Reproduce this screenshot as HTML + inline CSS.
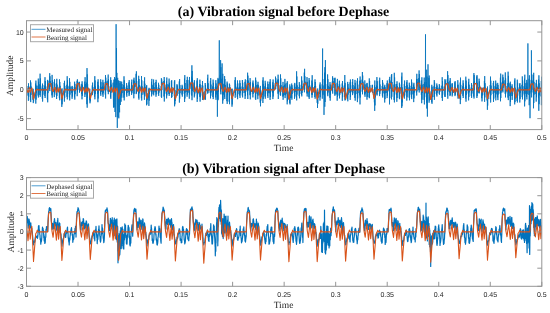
<!DOCTYPE html>
<html><head><meta charset="utf-8"><title>Vibration signal</title>
<style>
html,body{margin:0;padding:0;background:#fff;width:550px;height:313px;overflow:hidden}
svg{display:block}
text{text-rendering:geometricPrecision}
.tk{font-family:"Liberation Sans",Arial,sans-serif;font-size:7px;fill:#262626}
.lab{font-family:"Liberation Serif","Times New Roman",serif;font-size:9.5px;fill:#262626}
.lg{font-family:"Liberation Serif","Times New Roman",serif;font-size:7px;fill:#262626}
.ttl{font-family:"Liberation Serif","Times New Roman",serif;font-size:14px;font-weight:bold;fill:#000}
</style></head><body>
<svg width="550" height="313" viewBox="0 0 550 313">
<defs><clipPath id="ca"><rect x="26.5" y="20.7" width="515.3" height="108.89999999999999"/></clipPath><clipPath id="cb"><rect x="26.5" y="177.6" width="515.3" height="108.70000000000002"/></clipPath></defs>
<rect width="550" height="313" fill="#fff"/>
<g clip-path="url(#ca)" fill="none" stroke-linejoin="round">
<polyline points="25.5,89.3 25.5,88.3 25.6,86.3 25.8,93.4 25.9,81.4 26.1,94.2 26.2,82.6 26.4,90.0 26.4,87.2 26.5,85.5 26.6,88.3 26.8,88.5 26.8,88.3 27.2,89.2 27.2,89.6 27.5,90.6 27.8,91.8 28.0,92.0 28.0,94.3 28.1,95.6 28.2,90.0 28.2,86.0 28.4,100.8 28.5,86.6 28.5,83.3 28.7,96.8 28.8,86.4 28.8,86.6 28.8,86.5 29.0,91.4 29.1,88.1 29.2,88.1 29.3,88.1 29.4,87.9 29.5,88.0 29.8,90.1 30.1,91.5 30.2,90.7 30.2,88.7 30.2,88.3 30.4,100.3 30.5,86.9 30.5,80.4 30.7,102.1 30.8,84.9 30.8,82.4 31.0,94.9 31.0,92.9 31.1,86.5 31.2,87.1 31.3,90.1 31.4,88.6 31.5,88.6 31.8,87.9 31.8,88.1 32.2,90.3 32.5,91.8 32.6,92.6 32.8,93.7 32.8,92.7 32.9,91.6 33.0,99.8 33.2,89.9 33.2,88.8 33.3,103.1 33.5,93.5 33.5,94.3 33.5,96.4 33.6,101.4 33.8,95.9 33.8,96.8 33.9,98.3 34.1,96.9 34.2,96.4 34.5,95.0 34.5,95.1 34.8,93.8 35.2,92.4 35.4,91.8 35.5,95.9 35.5,94.1 35.6,83.5 35.7,97.2 35.8,103.6 35.8,95.1 35.9,80.6 36.1,99.6 36.2,91.1 36.2,85.6 36.4,93.1 36.5,89.5 36.5,88.8 36.7,89.4 36.7,89.9 36.8,89.5 37.2,89.4 37.3,88.8 37.5,89.0 37.8,89.9 37.9,89.8 38.0,85.7 38.0,89.5 38.1,95.5 38.2,90.5 38.3,78.6 38.4,97.5 38.5,89.4 38.6,81.8 38.7,93.7 38.8,88.5 38.9,87.2 39.0,90.4 39.2,89.8 39.2,89.9 39.5,89.7 39.7,89.9 39.8,84.3 39.8,89.3 39.9,95.0 40.1,73.7 40.2,88.9 40.2,96.8 40.4,78.4 40.5,91.3 40.5,92.9 40.7,85.7 40.8,90.3 40.8,90.4 41.0,89.8 41.2,89.8 41.5,89.7 41.8,89.9 42.1,89.6 42.2,87.7 42.2,88.4 42.3,98.7 42.5,83.6 42.5,89.0 42.6,101.6 42.8,85.1 42.8,90.4 42.9,94.7 43.1,88.1 43.2,90.4 43.2,91.0 43.4,89.7 43.5,89.7 43.8,89.7 44.2,89.8 44.5,90.1 44.6,89.8 44.7,85.7 44.8,95.3 44.8,96.0 45.0,77.2 45.1,98.0 45.2,94.9 45.3,81.1 45.4,93.7 45.5,90.9 45.6,86.9 45.7,90.7 45.8,89.8 45.9,89.9 46.2,89.6 46.5,90.0 46.8,89.7 47.2,89.8 47.2,89.8 47.3,86.2 47.4,99.5 47.5,89.7 47.6,79.9 47.6,84.1 47.7,102.3 47.8,87.0 47.9,81.0 48.0,93.1 48.1,88.1 48.2,84.6 48.2,83.8 48.3,86.6 48.5,84.7 48.5,84.6 48.6,84.0 48.8,84.1 49.2,83.6 49.3,83.2 49.4,79.8 49.5,88.3 49.5,89.2 49.6,80.2 49.7,73.2 49.8,91.1 49.8,89.3 50.0,76.3 50.1,86.7 50.2,84.9 50.3,81.2 50.4,84.6 50.5,84.0 50.6,84.0 50.8,83.5 50.8,83.9 51.2,85.5 51.4,86.6 51.5,87.1 51.7,88.3 51.8,83.2 51.8,88.0 51.9,95.3 52.0,84.9 52.1,74.9 52.2,89.7 52.2,97.7 52.4,80.2 52.5,92.1 52.5,94.1 52.7,87.0 52.8,91.7 52.8,91.7 53.0,91.3 53.1,91.3 53.2,91.6 53.5,90.3 53.8,89.5 53.9,89.2 53.9,89.1 54.0,92.2 54.2,82.9 54.2,81.9 54.3,97.1 54.5,79.3 54.5,80.9 54.6,93.4 54.8,83.6 54.8,84.1 54.8,85.2 54.9,89.7 55.1,87.2 55.2,88.0 55.2,88.7 55.5,89.5 55.6,89.8 55.8,90.4 56.2,91.7 56.2,91.9 56.3,95.1 56.4,90.0 56.5,83.1 56.5,84.5 56.6,99.0 56.8,78.8 56.8,84.2 56.9,95.9 57.1,84.6 57.2,88.4 57.2,89.9 57.2,91.4 57.4,88.1 57.5,88.2 57.5,88.6 57.8,87.9 57.8,88.0 58.2,89.8 58.5,91.5 58.6,92.1 58.8,91.1 59.1,90.5 59.2,88.4 59.2,86.8 59.4,98.2 59.4,92.2 59.5,79.7 59.5,79.3 59.7,100.3 59.8,82.0 59.8,83.8 60.0,93.4 60.1,85.8 60.2,86.9 60.2,87.4 60.3,89.2 60.4,89.2 60.5,89.7 60.8,91.5 61.0,92.7 61.2,93.9 61.4,95.4 61.5,99.0 61.5,99.3 61.7,89.4 61.8,106.9 61.8,104.8 61.9,96.5 62.0,88.3 62.1,104.3 62.2,99.9 62.3,92.8 62.4,99.2 62.5,97.1 62.6,95.3 62.7,95.5 62.8,95.1 62.9,95.0 63.2,93.9 63.5,92.6 63.8,91.2 64.0,91.0 64.1,94.4 64.1,91.1 64.2,86.1 64.2,83.0 64.4,101.6 64.5,81.2 64.5,80.8 64.7,97.8 64.8,85.9 64.8,87.2 65.0,92.6 65.1,88.9 65.1,89.1 65.2,89.2 65.3,89.8 65.5,89.5 65.7,89.1 65.8,89.2 66.2,89.4 66.4,89.8 66.5,89.6 66.8,89.5 66.8,86.5 66.9,84.8 67.0,96.8 67.2,76.4 67.2,76.2 67.3,99.4 67.5,80.3 67.5,83.4 67.6,94.0 67.8,86.7 67.8,88.4 67.9,90.7 68.1,89.6 68.2,89.6 68.5,89.8 68.8,89.8 69.1,89.9 69.2,88.7 69.2,85.8 69.4,97.4 69.5,83.4 69.5,78.2 69.7,100.4 69.8,82.9 69.8,81.9 70.0,94.6 70.1,86.6 70.2,87.5 70.3,91.1 70.4,89.6 70.5,89.5 70.8,89.8 71.2,89.9 71.5,89.8 71.7,89.7 71.8,92.9 71.8,89.8 71.9,86.7 72.1,98.8 72.2,89.4 72.2,85.9 72.4,96.5 72.5,88.6 72.5,88.0 72.7,92.1 72.8,89.2 72.8,89.5 73.0,89.9 73.2,89.5 73.5,89.6 73.8,89.7 74.2,89.6 74.2,89.6 74.3,86.9 74.5,97.4 74.5,96.3 74.6,81.7 74.8,99.6 74.8,95.1 74.9,83.9 75.1,94.2 75.2,91.1 75.2,87.4 75.4,90.8 75.5,90.2 75.5,89.7 75.8,89.7 76.0,89.9 76.2,88.4 76.5,86.8 76.5,86.8 76.8,85.0 76.8,85.7 76.9,88.8 77.0,85.4 77.1,80.8 77.2,91.1 77.2,96.2 77.4,79.3 77.5,91.4 77.5,92.3 77.7,81.7 77.8,86.6 77.8,86.0 78.0,83.1 78.0,83.3 78.1,83.8 78.2,83.6 78.5,83.6 78.8,83.5 79.0,83.7 79.1,82.4 79.2,85.6 79.2,86.0 79.2,89.9 79.4,81.8 79.5,89.9 79.5,92.7 79.7,84.3 79.8,87.3 79.8,90.0 79.8,90.2 80.0,86.9 80.1,89.3 80.2,89.3 80.3,89.1 80.4,89.4 80.5,89.8 80.8,90.3 81.2,90.6 81.5,91.7 81.5,91.3 81.6,91.3 81.7,94.1 81.8,83.9 81.8,85.8 82.0,99.3 82.1,81.3 82.2,85.8 82.3,95.9 82.3,95.4 82.4,85.0 82.5,88.8 82.6,91.1 82.7,87.4 82.8,87.5 82.9,87.9 83.2,87.3 83.2,87.5 83.5,88.1 83.8,89.0 84.0,89.7 84.2,90.4 84.5,91.7 84.5,91.4 84.6,93.1 84.8,82.1 84.8,81.6 84.8,87.7 84.9,97.0 85.1,77.2 85.2,88.1 85.2,94.4 85.4,84.1 85.5,89.9 85.5,91.1 85.6,90.1 85.7,88.2 85.8,89.2 85.8,88.9 86.2,88.0 86.2,88.1 86.5,89.7 86.6,90.2 86.7,82.6 86.8,100.3 86.9,104.2 87.0,77.8 87.0,68.1 87.2,107.7 87.2,106.8 87.3,74.4 87.5,97.8 87.5,94.3 87.6,84.1 87.8,90.9 87.8,91.1 87.8,90.4 87.9,89.5 88.2,88.7 88.5,88.2 88.6,88.3 88.8,89.7 89.2,91.3 89.4,92.4 89.4,92.9 89.5,91.3 89.5,91.0 89.7,99.8 89.8,88.8 89.8,90.2 90.0,103.3 90.1,93.1 90.2,95.7 90.3,101.4 90.3,101.2 90.4,96.6 90.5,96.8 90.6,98.2 90.7,96.6 90.8,96.1 91.2,94.9 91.3,94.6 91.5,94.0 91.8,92.5 92.0,92.1 92.1,93.8 92.2,89.6 92.3,85.4 92.4,95.1 92.5,89.9 92.5,87.0 92.6,82.6 92.7,93.3 92.8,87.7 92.9,87.0 93.0,91.2 93.2,89.6 93.2,89.5 93.3,89.8 93.5,89.9 93.5,89.8 93.8,89.4 94.1,88.9 94.2,89.1 94.4,89.4 94.5,84.6 94.5,88.0 94.6,96.7 94.8,76.2 94.8,78.0 94.8,87.4 94.9,99.3 95.1,80.4 95.2,89.7 95.2,94.1 95.4,86.4 95.5,90.5 95.5,90.9 95.7,90.0 95.8,89.5 96.2,89.3 96.5,89.7 96.8,89.9 97.2,89.6 97.5,89.8 97.5,89.6 97.6,94.0 97.8,81.8 97.8,91.5 97.9,102.2 98.1,79.3 98.2,93.0 98.2,98.5 98.4,85.2 98.5,92.3 98.5,93.0 98.7,88.7 98.8,89.7 98.8,90.0 99.2,89.9 99.5,89.9 99.8,89.6 100.2,89.5 100.3,89.6 100.4,86.2 100.5,91.6 100.5,94.2 100.7,79.3 100.8,94.7 100.8,95.8 101.0,82.1 101.1,92.0 101.2,91.5 101.3,87.2 101.4,90.3 101.5,90.1 101.6,90.0 101.8,89.9 102.2,89.7 102.5,89.7 102.5,88.8 102.6,86.3 102.7,94.4 102.8,84.6 102.9,79.8 103.0,96.8 103.2,84.2 103.2,82.6 103.3,92.9 103.5,87.2 103.5,87.7 103.6,90.6 103.8,89.8 103.8,89.8 104.2,89.8 104.3,89.6 104.5,88.6 104.8,86.8 104.8,86.8 105.1,85.5 105.2,81.9 105.2,83.0 105.3,94.6 105.3,89.8 105.5,75.1 105.5,82.5 105.6,98.5 105.8,77.7 105.8,84.6 105.9,90.3 106.1,81.5 106.2,84.0 106.2,85.1 106.3,83.6 106.4,83.7 106.5,83.2 106.8,83.5 107.2,83.3 107.5,83.5 107.5,83.4 107.8,85.0 107.8,82.6 107.9,80.7 108.0,91.5 108.1,78.4 108.2,75.4 108.2,74.6 108.3,94.2 108.5,79.4 108.5,81.8 108.6,91.9 108.7,88.0 108.8,86.5 108.8,88.1 108.9,90.5 109.1,90.0 109.2,90.2 109.5,91.1 109.8,91.1 109.8,91.2 110.2,90.4 110.3,90.3 110.4,85.9 110.5,95.9 110.5,97.3 110.6,81.6 110.7,77.3 110.8,98.8 110.8,97.8 111.0,80.1 111.1,92.8 111.2,90.3 111.3,84.6 111.4,88.7 111.5,87.8 111.5,87.2 111.6,87.4 111.8,88.2 112.2,89.2 112.3,89.8 112.5,90.0 112.8,91.5 112.9,91.6 113.1,82.7 113.1,85.2 113.2,87.0 113.5,107.5 113.5,105.6 113.8,81.7 113.9,79.6 113.9,85.1 114.2,102.1 114.2,107.4 114.5,86.0 114.5,83.0 114.6,77.0 114.8,96.6 115.0,112.0 115.2,97.5 115.3,82.3 115.4,78.6 115.5,90.9 115.8,117.1 115.8,111.2 116.0,97.8 116.1,24.2 116.1,50.4 116.2,67.9 116.2,89.4 116.4,88.9 116.5,48.1 116.6,84.9 116.8,75.7 116.9,72.9 116.9,78.7 117.2,111.7 117.3,127.9 117.5,99.1 117.7,77.8 117.7,85.8 117.8,95.7 118.0,117.3 118.2,104.6 118.4,80.4 118.5,88.9 118.6,103.3 118.8,118.3 118.8,115.2 119.2,82.1 119.2,80.9 119.5,107.7 119.6,112.3 119.6,106.2 119.8,91.2 119.9,83.2 120.2,96.2 120.3,105.0 120.5,93.7 120.7,81.3 120.8,87.9 120.8,88.6 121.1,101.7 121.2,95.5 121.2,90.2 121.3,90.2 121.4,87.0 121.5,93.7 121.5,95.6 121.7,81.7 121.8,96.9 121.8,97.7 121.8,97.1 122.0,84.1 122.1,93.1 122.2,91.9 122.3,87.5 122.4,89.9 122.4,90.1 122.5,89.6 122.6,89.2 122.8,89.6 123.1,89.7 123.2,89.5 123.5,89.7 123.6,89.9 123.7,85.1 123.8,93.7 123.9,97.7 124.0,76.3 124.2,98.0 124.2,100.4 124.3,80.3 124.5,94.6 124.5,93.6 124.6,86.6 124.8,91.0 124.8,90.5 124.9,89.4 125.2,89.8 125.5,89.8 125.8,89.8 126.2,89.8 126.2,89.6 126.3,87.5 126.5,94.6 126.5,94.5 126.6,83.1 126.8,96.7 126.8,93.6 126.9,85.5 127.1,92.9 127.2,90.6 127.2,88.2 127.4,90.8 127.5,89.8 127.5,89.8 127.8,89.8 128.2,89.8 128.5,89.8 128.7,89.7 128.8,92.2 128.8,87.2 128.9,82.4 129.1,96.1 129.2,84.2 129.2,80.1 129.4,94.4 129.5,85.7 129.5,85.2 129.7,91.5 129.8,88.5 129.8,88.8 130.0,89.8 130.2,89.6 130.5,90.0 130.8,90.0 131.2,90.0 131.2,89.8 131.3,91.5 131.5,82.3 131.5,82.8 131.6,94.9 131.8,79.6 131.8,83.5 131.9,93.2 132.1,85.3 132.2,88.2 132.2,91.2 132.4,88.9 132.5,89.5 132.5,89.6 132.7,89.7 132.8,89.2 133.2,87.2 133.2,86.9 133.4,85.5 133.5,88.8 133.5,89.9 133.7,79.7 133.7,82.6 133.8,98.0 133.8,98.3 134.0,77.7 134.1,93.8 134.2,91.4 134.3,80.9 134.4,87.2 134.5,85.6 134.6,82.9 134.7,83.5 134.7,83.7 134.8,83.9 135.2,83.8 135.5,83.7 135.8,84.1 135.8,84.4 135.9,86.8 135.9,86.9 136.1,73.8 136.2,87.8 136.2,94.1 136.4,71.3 136.5,91.2 136.5,93.1 136.5,93.0 136.7,81.0 136.8,90.3 136.8,90.3 137.0,87.3 137.1,89.5 137.1,89.3 137.2,89.7 137.5,90.3 137.8,90.3 138.2,91.4 138.2,91.5 138.3,91.2 138.4,86.0 138.5,93.4 138.6,97.8 138.7,75.8 138.8,96.8 138.9,99.6 139.0,79.0 139.0,79.6 139.2,93.3 139.2,92.9 139.3,85.0 139.5,89.5 139.5,89.1 139.6,87.8 139.8,87.6 139.9,86.9 140.2,88.1 140.5,89.2 140.7,89.6 140.8,89.8 141.1,91.0 141.2,89.0 141.2,85.7 141.4,98.2 141.5,79.9 141.5,78.5 141.5,76.0 141.7,100.5 141.8,80.3 141.8,81.1 142.0,94.9 142.1,86.3 142.2,87.6 142.3,90.5 142.3,90.3 142.4,89.7 142.5,89.1 142.8,87.9 142.9,87.8 143.2,89.0 143.5,90.9 143.7,92.1 143.8,91.4 144.0,91.2 144.1,94.5 144.2,89.6 144.3,81.1 144.4,99.8 144.5,87.4 144.5,85.9 144.6,77.3 144.7,96.1 144.8,86.1 144.9,83.7 145.0,91.0 145.2,87.4 145.2,87.3 145.3,87.9 145.3,88.2 145.5,89.4 145.8,90.6 146.1,92.6 146.2,92.8 146.2,92.8 146.3,96.7 146.4,86.2 146.5,96.1 146.6,105.3 146.7,85.1 146.8,99.7 146.9,104.3 147.0,93.9 147.0,93.3 147.2,100.1 147.2,99.8 147.3,96.1 147.5,96.8 147.5,96.4 147.8,95.5 148.0,94.4 148.2,93.9 148.5,93.0 148.5,93.9 148.6,97.6 148.7,89.4 148.8,100.8 148.9,105.9 149.0,87.8 149.2,99.3 149.2,100.6 149.2,98.3 149.3,88.6 149.5,94.0 149.5,93.2 149.6,89.7 149.8,90.1 149.8,90.2 150.2,90.0 150.2,89.7 150.5,89.7 150.8,89.2 150.8,89.0 151.2,89.3 151.2,89.3 151.3,92.0 151.5,81.8 151.5,83.9 151.5,85.0 151.6,96.4 151.8,78.9 151.8,84.7 151.9,94.4 152.1,84.8 152.2,88.8 152.2,91.4 152.4,88.6 152.5,89.5 152.5,89.6 152.8,89.8 153.2,89.4 153.2,89.8 153.3,86.1 153.4,93.9 153.5,87.2 153.6,79.5 153.7,95.3 153.8,86.7 153.9,82.9 154.0,92.3 154.2,87.3 154.2,87.2 154.3,90.1 154.5,89.9 154.5,89.7 154.8,89.6 155.2,89.4 155.5,89.9 155.6,89.6 155.7,92.1 155.8,82.6 155.8,82.0 156.0,96.7 156.1,79.8 156.2,82.1 156.3,94.5 156.4,85.2 156.5,87.9 156.6,91.2 156.7,88.7 156.8,89.2 156.9,89.5 157.2,89.8 157.5,89.6 157.8,89.8 158.1,89.8 158.2,88.4 158.2,87.3 158.4,94.1 158.5,83.5 158.5,82.8 158.7,95.9 158.8,84.8 158.8,86.2 159.0,92.6 159.1,88.0 159.2,89.0 159.3,90.4 159.4,89.9 159.5,89.4 159.8,89.5 160.2,89.7 160.5,89.8 160.8,89.4 161.0,89.7 161.1,88.4 161.1,86.1 161.2,88.2 161.3,96.8 161.4,78.2 161.5,86.1 161.6,97.2 161.6,97.9 161.7,79.4 161.8,85.8 161.9,90.1 162.0,81.8 162.1,82.3 162.2,84.2 162.2,85.1 162.3,83.8 162.5,83.8 162.8,83.4 163.1,83.3 163.2,83.3 163.5,83.5 163.8,83.5 163.8,82.6 163.9,81.0 164.0,96.5 164.2,80.9 164.2,77.0 164.3,91.0 164.3,101.5 164.5,80.3 164.5,80.7 164.6,93.7 164.8,84.6 164.8,85.8 164.9,87.2 164.9,88.8 165.1,87.8 165.2,88.4 165.5,89.4 165.5,89.4 165.8,90.1 166.2,90.6 166.2,90.7 166.3,93.7 166.5,81.3 166.5,81.4 166.6,90.7 166.6,98.4 166.8,77.5 166.8,82.0 166.9,95.4 167.1,84.2 167.2,87.4 167.2,91.5 167.4,88.4 167.4,87.6 167.5,88.6 167.5,88.8 167.8,88.0 168.2,87.3 168.3,87.2 168.5,87.9 168.7,88.6 168.8,84.6 168.8,87.6 168.9,93.9 169.1,79.2 169.1,78.6 169.2,88.1 169.2,95.9 169.4,82.8 169.5,91.5 169.5,94.0 169.7,89.3 169.8,92.8 169.8,92.9 169.9,92.4 170.0,92.1 170.2,91.9 170.5,90.5 170.7,89.7 170.8,89.4 171.2,88.3 171.2,88.4 171.3,90.7 171.3,89.4 171.4,81.0 171.5,90.9 171.6,97.9 171.7,80.1 171.8,94.1 171.9,97.0 172.0,87.0 172.1,90.9 172.2,94.0 172.2,93.7 172.3,90.4 172.5,90.8 172.5,90.9 172.8,89.4 172.9,89.3 173.2,88.9 173.5,88.6 173.7,88.2 173.8,88.7 174.2,90.5 174.2,90.8 174.3,95.8 174.4,81.5 174.5,91.8 174.5,95.2 174.6,106.3 174.7,80.1 174.8,98.8 174.9,104.3 175.0,90.1 175.2,101.0 175.2,100.7 175.3,97.2 175.4,98.6 175.5,98.5 175.5,98.5 175.8,97.3 176.2,95.5 176.4,94.9 176.5,94.6 176.6,94.1 176.7,91.0 176.8,95.7 176.8,95.7 177.0,84.2 177.1,95.6 177.2,93.4 177.3,85.4 177.4,92.3 177.5,90.6 177.6,88.3 177.6,87.9 177.7,90.6 177.8,90.0 177.9,90.3 178.2,90.0 178.5,90.0 178.6,89.8 178.8,89.4 179.0,89.0 179.1,93.9 179.2,92.1 179.2,91.1 179.3,81.4 179.4,102.6 179.5,94.1 179.6,79.1 179.7,98.7 179.8,90.9 179.9,86.7 179.9,85.1 180.0,93.2 180.2,89.2 180.2,88.9 180.3,89.5 180.5,89.6 180.8,89.8 181.2,90.0 181.5,89.6 181.7,89.5 181.8,88.2 181.8,89.4 182.0,94.6 182.1,84.8 182.2,89.4 182.3,96.6 182.4,86.3 182.5,90.7 182.6,92.4 182.7,88.7 182.8,90.6 182.9,90.4 183.0,89.8 183.2,89.4 183.5,89.8 183.8,89.8 184.2,89.6 184.2,89.5 184.3,94.0 184.5,78.6 184.5,83.8 184.6,102.0 184.8,75.1 184.8,85.3 184.9,98.5 185.1,83.0 185.2,89.8 185.2,92.6 185.4,88.1 185.5,89.6 185.5,89.9 185.8,89.8 186.2,89.7 186.5,89.6 186.7,89.7 186.8,91.9 186.8,90.2 187.0,80.0 187.1,96.7 187.2,88.7 187.3,76.8 187.4,94.5 187.5,87.8 187.6,83.8 187.7,91.9 187.8,88.9 187.9,88.7 188.0,89.6 188.2,89.3 188.5,89.8 188.8,89.7 188.9,89.8 189.0,92.8 189.2,80.7 189.2,80.0 189.3,98.7 189.4,80.2 189.5,77.0 189.5,79.9 189.6,94.5 189.8,81.7 189.8,84.7 189.9,88.8 189.9,88.0 190.1,84.3 190.2,84.4 190.2,84.9 190.4,83.3 190.5,83.3 190.8,83.1 191.2,82.9 191.4,82.5 191.5,82.7 191.5,80.8 191.6,76.6 191.7,95.5 191.8,73.3 191.9,65.3 192.0,100.2 192.2,71.5 192.2,70.9 192.3,91.0 192.5,78.7 192.5,80.0 192.6,84.7 192.6,84.7 192.8,83.5 192.8,84.1 193.2,86.2 193.2,86.8 193.5,87.9 193.8,89.6 193.8,89.5 193.9,89.5 194.0,92.2 194.1,82.4 194.2,85.2 194.3,97.4 194.4,80.2 194.5,86.4 194.6,95.7 194.7,86.6 194.8,91.1 194.9,93.5 194.9,92.5 195.0,90.2 195.2,90.9 195.2,90.9 195.5,90.0 195.8,89.1 195.8,88.7 196.2,88.2 196.5,87.4 196.6,87.1 196.8,87.3 196.8,89.9 196.9,92.6 197.0,80.5 197.2,99.2 197.2,101.9 197.3,78.2 197.4,94.2 197.5,98.9 197.5,97.9 197.6,85.8 197.8,94.3 197.8,93.1 197.9,90.6 198.1,91.7 198.2,92.7 198.2,92.6 198.5,91.7 198.8,90.6 199.0,89.7 199.2,89.2 199.5,88.1 199.5,87.9 199.6,84.2 199.6,86.0 199.8,96.8 199.8,90.9 199.9,79.7 200.1,101.6 200.2,92.3 200.2,84.4 200.4,97.2 200.4,94.2 200.5,91.2 200.5,89.7 200.7,92.6 200.8,91.2 200.8,90.9 201.2,89.7 201.2,89.6 201.5,89.1 201.8,88.0 202.0,88.1 202.1,88.2 202.2,85.7 202.2,85.1 202.3,95.6 202.5,81.0 202.5,84.2 202.6,100.0 202.8,85.6 202.8,90.3 202.8,91.1 202.9,97.0 203.1,92.2 203.2,94.7 203.2,96.4 203.4,96.6 203.5,98.0 203.8,99.5 203.8,99.4 204.2,98.0 204.5,96.4 204.8,95.4 204.8,95.2 204.8,95.0 204.9,91.2 205.1,99.2 205.2,89.3 205.2,83.0 205.4,99.8 205.5,87.7 205.5,85.0 205.7,94.7 205.8,88.5 205.8,88.6 205.9,90.5 206.0,91.1 206.1,90.4 206.2,90.2 206.5,90.1 206.8,89.6 206.9,89.8 207.2,89.6 207.3,89.4 207.4,90.9 207.5,80.5 207.5,78.4 207.5,80.8 207.7,93.7 207.8,74.7 207.8,76.3 208.0,92.8 208.1,83.2 208.2,85.3 208.2,89.7 208.3,91.0 208.4,88.2 208.5,89.0 208.6,90.0 208.8,89.5 209.2,89.6 209.5,89.8 209.8,89.6 210.1,89.9 210.2,90.3 210.2,92.8 210.4,81.1 210.5,93.7 210.5,98.4 210.7,78.0 210.8,94.9 210.8,95.7 211.0,84.6 211.1,92.5 211.2,91.3 211.3,88.9 211.4,89.7 211.5,89.6 211.8,89.7 212.2,89.8 212.5,89.8 212.7,89.8 212.8,86.4 212.8,89.5 212.9,97.0 213.1,79.6 213.2,89.9 213.2,99.1 213.4,82.8 213.5,91.1 213.5,94.1 213.7,87.2 213.8,90.4 213.8,90.7 214.0,89.9 214.2,89.9 214.5,89.5 214.8,89.8 215.2,89.8 215.4,89.5 215.5,86.8 215.5,86.5 215.7,97.4 215.8,80.2 215.8,83.1 216.0,99.8 216.1,83.4 216.2,87.5 216.3,94.5 216.4,87.4 216.5,89.3 216.6,90.8 216.7,90.0 216.8,90.0 217.2,89.8 217.3,90.0 217.4,116.7 217.5,89.6 217.6,89.3 217.7,85.8 217.8,98.6 217.8,99.1 217.8,98.5 218.0,77.9 218.1,100.2 218.2,94.4 218.3,79.2 218.3,82.8 218.4,91.6 218.5,87.1 218.6,82.3 218.7,85.9 218.8,84.6 218.8,84.6 218.9,83.7 219.2,83.6 219.2,83.7 219.3,40.3 219.4,83.7 219.5,83.7 219.8,83.5 219.8,83.5 220.2,83.5 220.2,83.6 220.3,75.2 220.5,91.5 220.5,87.4 220.6,60.1 220.8,94.3 220.8,84.5 220.9,67.2 221.0,79.9 221.1,88.9 221.2,83.4 221.2,78.8 221.4,86.9 221.5,86.4 221.5,86.4 221.6,87.2 221.8,88.0 222.0,88.6 222.1,63.4 222.2,80.9 222.2,89.3 222.2,89.5 222.3,89.5 222.4,94.5 222.5,80.2 222.5,77.7 222.7,103.7 222.8,73.8 222.8,75.6 223.0,100.3 223.1,83.8 223.2,86.8 223.3,94.6 223.3,93.3 223.4,89.6 223.5,90.0 223.6,90.3 223.8,90.0 224.1,89.1 224.2,89.0 224.2,89.4 224.3,84.5 224.5,96.8 224.5,91.4 224.6,76.1 224.8,99.0 224.8,89.6 224.9,79.0 225.0,88.4 225.1,92.3 225.2,87.4 225.2,84.9 225.4,89.3 225.5,88.5 225.5,88.7 225.8,89.7 225.8,89.6 226.2,90.7 226.5,91.7 226.6,92.2 226.7,92.2 226.8,88.6 226.8,93.8 226.9,101.2 227.1,81.6 227.2,95.6 227.2,103.9 227.4,83.5 227.4,87.6 227.5,93.6 227.5,95.3 227.7,86.9 227.8,89.6 227.8,89.5 228.0,87.9 228.0,87.5 228.2,88.2 228.5,90.5 228.8,91.8 228.8,91.9 229.0,91.5 229.1,88.7 229.2,98.7 229.2,101.7 229.4,83.6 229.5,104.1 229.5,104.2 229.6,89.0 229.7,84.8 229.8,95.5 229.8,93.9 230.0,87.1 230.1,90.4 230.2,89.5 230.3,88.5 230.4,88.1 230.5,88.6 230.8,90.2 231.2,92.3 231.2,92.5 231.5,94.5 231.6,94.7 231.7,98.8 231.8,88.9 231.8,92.8 232.0,106.7 232.1,88.7 232.1,90.8 232.2,95.6 232.3,104.4 232.4,93.1 232.5,97.1 232.6,99.3 232.7,95.2 232.8,95.8 232.9,96.2 233.1,94.6 233.2,94.6 233.5,93.6 233.8,92.2 234.2,91.0 234.3,89.9 234.5,90.1 234.8,90.3 234.8,91.5 234.9,92.7 235.0,80.1 235.2,96.7 235.2,97.8 235.3,77.7 235.3,77.2 235.5,94.9 235.5,93.4 235.6,83.7 235.8,90.9 235.8,90.2 235.9,87.8 235.9,88.0 236.1,88.9 236.2,89.3 236.5,89.7 236.6,89.6 236.8,89.7 237.1,89.9 237.2,86.7 237.2,86.7 237.3,97.1 237.5,80.4 237.5,83.9 237.6,99.2 237.8,83.4 237.8,87.8 237.9,94.2 238.1,87.6 238.2,89.5 238.2,90.7 238.4,89.6 238.5,89.8 238.8,89.7 239.2,89.6 239.4,89.9 239.5,87.7 239.5,86.6 239.7,95.5 239.8,80.7 239.8,80.3 240.0,97.9 240.1,83.1 240.2,85.2 240.3,93.2 240.4,87.4 240.5,88.8 240.6,90.4 240.7,89.6 240.8,89.9 241.2,89.5 241.5,89.8 241.8,89.8 242.0,89.7 242.1,86.6 242.2,87.6 242.3,95.5 242.4,80.0 242.5,85.8 242.6,97.4 242.7,82.8 242.8,88.8 242.9,93.1 243.0,87.2 243.2,89.8 243.2,90.1 243.3,89.7 243.5,90.0 243.8,89.5 244.2,89.8 244.5,89.8 244.7,90.3 244.8,92.4 244.8,92.9 245.0,81.8 245.1,98.9 245.2,96.3 245.3,79.3 245.4,96.1 245.5,92.5 245.6,85.1 245.7,91.9 245.8,90.1 245.9,88.9 246.0,89.7 246.2,89.8 246.2,89.9 246.5,87.8 246.7,86.8 246.8,86.2 247.2,84.4 247.2,83.8 247.2,84.3 247.3,80.0 247.5,95.2 247.5,94.3 247.6,72.7 247.8,99.0 247.8,92.9 247.9,75.6 248.1,90.5 248.2,85.9 248.2,84.0 248.2,80.5 248.4,85.0 248.5,84.1 248.5,83.5 248.8,83.6 249.2,83.6 249.4,84.0 249.5,84.3 249.7,85.6 249.8,83.0 249.8,82.9 250.0,95.2 250.0,94.5 250.1,78.1 250.2,83.2 250.3,99.3 250.4,82.1 250.5,87.7 250.6,94.2 250.6,94.3 250.7,87.6 250.8,89.8 250.9,91.0 251.0,89.9 251.2,90.4 251.5,91.2 251.7,91.3 251.8,91.2 252.2,90.3 252.5,88.7 252.5,89.1 252.5,89.3 252.6,92.1 252.7,82.6 252.8,91.7 252.9,97.4 253.0,80.5 253.2,91.9 253.2,93.9 253.3,83.7 253.4,85.5 253.5,89.8 253.5,89.7 253.6,87.4 253.8,88.2 253.8,88.5 254.2,89.6 254.2,89.7 254.5,90.6 254.8,91.8 255.0,92.2 255.2,92.0 255.2,91.6 255.3,86.5 255.4,98.6 255.5,91.5 255.6,77.6 255.7,99.9 255.8,94.6 255.8,89.4 255.9,80.5 256.0,93.7 256.2,87.2 256.2,85.2 256.3,89.0 256.4,88.4 256.5,87.8 256.5,88.2 256.8,90.0 257.2,92.0 257.2,92.1 257.4,91.4 257.5,93.0 257.5,94.2 257.7,84.6 257.8,98.5 257.8,99.2 258.0,81.8 258.0,81.9 258.1,95.5 258.2,93.7 258.3,85.2 258.4,90.8 258.5,89.7 258.6,87.5 258.7,88.4 258.8,87.7 258.8,88.1 259.2,90.2 259.5,92.2 259.6,92.5 259.8,94.5 260.0,95.2 260.1,91.5 260.2,99.0 260.2,102.6 260.4,85.9 260.5,103.2 260.5,104.2 260.5,106.3 260.7,89.9 260.8,100.7 260.8,100.1 261.0,93.5 261.1,97.1 261.2,96.2 261.3,95.8 261.5,94.6 261.5,94.9 261.8,93.7 262.2,92.2 262.5,90.9 262.5,91.1 262.6,94.9 262.7,88.9 262.8,80.4 262.8,89.0 262.9,103.0 263.1,77.3 263.2,90.1 263.2,98.9 263.4,84.1 263.5,91.7 263.5,93.4 263.7,88.7 263.7,88.5 263.8,89.7 263.8,89.8 264.2,89.4 264.3,88.9 264.5,89.4 264.8,89.7 264.8,87.0 264.9,86.3 265.0,95.1 265.0,96.5 265.2,80.8 265.2,81.6 265.3,98.7 265.5,83.4 265.5,86.1 265.6,93.7 265.8,87.4 265.8,89.0 265.9,90.8 266.1,90.1 266.2,89.8 266.5,89.9 266.8,89.9 267.2,89.8 267.4,90.0 267.5,87.0 267.5,87.6 267.6,95.8 267.8,81.5 267.8,86.3 267.9,97.9 268.1,84.1 268.2,88.9 268.2,93.1 268.4,87.8 268.5,89.6 268.5,90.3 268.7,89.5 268.8,89.9 269.2,89.4 269.5,89.7 269.7,89.8 269.8,93.3 269.8,89.1 269.9,81.8 270.1,99.9 270.2,87.7 270.2,79.2 270.4,97.0 270.5,87.2 270.5,84.8 270.7,92.1 270.8,88.9 270.8,88.5 271.0,89.7 271.2,89.4 271.5,90.0 271.8,89.7 272.2,89.8 272.5,90.0 272.5,89.9 272.6,92.9 272.8,82.3 272.8,89.3 272.9,99.1 273.1,79.5 273.2,90.1 273.2,96.5 273.4,85.2 273.5,90.9 273.5,92.2 273.7,88.9 273.8,89.6 273.8,89.5 274.2,89.9 274.5,90.2 274.6,90.0 274.8,88.1 275.1,86.5 275.1,86.0 275.2,85.0 275.2,83.1 275.4,89.2 275.5,79.3 275.5,76.6 275.6,79.2 275.7,89.1 275.8,78.3 275.8,78.8 276.0,86.3 276.1,81.6 276.2,82.4 276.3,84.0 276.4,83.3 276.5,83.0 276.6,83.2 276.8,83.3 277.2,83.4 277.5,83.5 277.7,83.3 277.8,81.4 277.8,79.7 277.8,82.5 278.0,93.7 278.1,74.7 278.2,84.4 278.3,99.0 278.4,85.8 278.4,79.5 278.5,87.9 278.6,93.2 278.7,85.5 278.8,89.6 278.9,90.3 279.0,90.0 279.0,89.4 279.2,89.8 279.5,90.5 279.8,91.2 280.1,91.4 280.1,91.4 280.2,86.5 280.2,85.3 280.3,95.2 280.5,74.4 280.5,77.1 280.6,95.7 280.8,78.3 280.8,83.0 280.9,85.7 280.9,91.8 281.1,85.1 281.2,86.9 281.2,89.2 281.4,87.8 281.5,87.8 281.8,87.2 281.8,87.4 282.2,88.4 282.5,89.4 282.6,89.4 282.6,89.8 282.7,86.8 282.8,96.1 282.8,96.6 283.0,81.9 283.1,99.8 283.2,97.6 283.3,85.8 283.4,90.4 283.4,95.7 283.5,93.5 283.6,89.5 283.7,91.9 283.8,91.5 283.9,90.8 284.2,89.5 284.2,90.2 284.5,88.7 284.5,88.3 284.6,85.0 284.8,91.5 284.8,94.9 284.8,90.2 284.9,78.9 285.1,98.1 285.2,91.3 285.2,83.6 285.4,95.3 285.5,91.1 285.5,89.9 285.6,90.1 285.7,92.4 285.8,91.5 285.8,91.2 286.2,90.1 286.4,89.7 286.5,89.0 286.8,88.7 286.8,93.3 286.9,94.2 287.0,82.8 287.2,104.3 287.2,103.4 287.2,102.5 287.3,81.2 287.5,101.2 287.5,96.7 287.6,87.3 287.8,95.4 287.8,93.6 287.9,91.7 288.0,92.4 288.1,93.3 288.2,94.1 288.5,96.3 288.8,98.8 288.9,99.2 289.2,98.0 289.4,96.9 289.5,93.3 289.5,92.4 289.7,103.1 289.8,84.4 289.8,87.0 289.9,90.3 290.0,104.4 290.1,86.4 290.2,90.2 290.3,98.0 290.4,90.2 290.5,92.0 290.6,93.6 290.7,91.6 290.8,91.5 291.1,90.4 291.2,90.4 291.3,90.1 291.4,87.9 291.5,92.7 291.6,97.8 291.7,83.5 291.8,95.5 291.9,99.7 292.0,85.2 292.1,87.3 292.2,93.2 292.2,94.0 292.3,87.8 292.5,90.3 292.5,90.2 292.6,89.0 292.7,89.0 292.8,89.5 293.2,89.4 293.4,89.7 293.5,89.6 293.8,89.7 294.1,90.0 294.2,91.2 294.2,92.6 294.4,84.5 294.5,96.3 294.5,98.8 294.7,82.9 294.8,96.4 294.8,96.3 295.0,86.9 295.1,92.0 295.2,91.3 295.3,89.1 295.4,89.7 295.5,89.6 295.8,90.1 296.2,89.8 296.2,89.2 296.3,83.5 296.4,97.6 296.5,81.0 296.6,71.3 296.7,100.4 296.8,80.3 296.9,76.5 297.0,94.6 297.2,85.4 297.2,85.5 297.3,90.7 297.5,89.7 297.5,89.9 297.8,89.6 298.2,89.9 298.5,89.9 298.8,89.9 298.9,89.8 299.0,87.0 299.2,95.1 299.2,96.2 299.3,82.1 299.5,98.3 299.5,96.5 299.6,84.8 299.8,93.9 299.8,91.5 299.9,88.1 300.1,90.7 300.2,90.1 300.2,89.8 300.5,89.8 300.8,89.5 301.2,90.2 301.2,89.6 301.3,84.7 301.5,95.0 301.5,92.4 301.6,76.4 301.8,96.4 301.8,91.0 301.9,80.5 302.1,92.9 302.2,89.0 302.2,86.4 302.4,90.3 302.5,90.0 302.5,89.7 302.8,89.9 302.9,89.9 303.2,88.2 303.4,86.5 303.5,86.3 303.8,84.0 303.9,83.8 304.0,83.9 304.1,86.5 304.2,81.8 304.3,72.6 304.4,92.3 304.5,78.5 304.6,68.8 304.7,89.6 304.8,79.1 304.9,76.3 304.9,81.0 305.0,85.4 305.2,81.7 305.2,82.0 305.3,83.5 305.5,82.9 305.8,83.4 306.1,83.0 306.2,83.5 306.5,85.5 306.6,86.0 306.7,82.7 306.7,84.7 306.8,92.0 306.9,93.4 307.0,77.1 307.2,96.5 307.2,95.1 307.3,81.9 307.3,84.1 307.5,93.3 307.5,91.5 307.6,87.3 307.8,91.2 307.8,90.8 307.9,90.5 308.2,90.9 308.4,91.5 308.5,91.0 308.7,90.8 308.8,85.8 308.8,89.3 308.9,97.2 309.1,78.0 309.2,89.0 309.2,97.4 309.2,98.9 309.4,80.3 309.5,89.8 309.5,92.5 309.7,85.2 309.8,88.4 309.8,89.2 310.0,87.4 310.1,87.2 310.2,87.1 310.5,88.3 310.8,89.6 310.9,89.6 311.2,90.4 311.5,91.6 311.6,91.9 311.7,94.5 311.7,93.4 311.8,83.6 311.9,80.5 312.0,97.7 312.2,75.2 312.2,75.4 312.3,95.0 312.5,82.9 312.5,84.8 312.5,86.5 312.6,91.2 312.8,87.0 312.8,87.8 312.9,88.5 313.1,87.9 313.2,88.0 313.5,89.6 313.8,91.4 313.9,92.1 314.2,91.3 314.5,90.3 314.6,90.1 314.7,86.0 314.7,88.4 314.8,95.4 314.8,97.0 315.0,79.4 315.1,98.7 315.2,96.7 315.3,82.0 315.4,92.9 315.5,90.2 315.5,88.7 315.6,86.0 315.7,90.1 315.8,90.0 315.9,90.1 316.2,91.7 316.3,92.7 316.5,93.8 316.8,96.2 317.1,98.4 317.2,100.0 317.2,102.8 317.2,102.8 317.4,92.3 317.5,104.9 317.5,108.0 317.7,88.5 317.8,103.8 317.8,103.2 318.0,92.0 318.1,97.8 318.2,97.1 318.2,95.3 318.3,94.0 318.4,94.4 318.5,93.9 318.8,92.5 319.2,91.5 319.4,90.0 319.5,90.3 319.6,90.3 319.7,93.9 319.8,85.6 319.8,84.6 320.0,100.6 320.1,82.4 320.2,84.6 320.3,97.2 320.4,87.7 320.4,86.7 320.5,88.6 320.6,92.4 320.7,88.6 320.8,89.1 320.9,89.0 321.0,89.0 321.2,89.1 321.5,89.5 321.7,89.7 321.8,89.6 322.1,89.6 322.2,86.2 322.2,84.3 322.3,98.7 322.5,74.4 322.5,74.9 322.6,48.5 322.6,79.1 322.7,94.0 322.8,79.0 322.8,82.8 322.9,95.1 323.1,85.5 323.2,88.4 323.2,90.8 323.4,89.6 323.5,89.7 323.8,89.7 323.9,89.8 324.0,114.9 324.1,89.6 324.2,89.7 324.4,89.5 324.5,95.6 324.5,88.9 324.6,72.7 324.8,106.7 324.8,86.2 324.9,67.2 325.1,102.0 325.2,85.4 325.2,79.8 325.3,88.7 325.4,76.1 325.4,60.1 325.5,87.7 325.5,87.6 325.5,87.5 325.7,89.9 325.8,89.5 326.2,89.9 326.5,90.0 326.8,89.9 327.2,89.8 327.2,89.6 327.3,84.1 327.5,94.4 327.5,92.6 327.6,74.4 327.8,96.2 327.8,90.5 327.9,79.2 328.1,92.5 328.2,88.8 328.2,85.9 328.4,90.3 328.5,90.1 328.5,90.0 328.8,89.9 329.2,89.5 329.5,89.6 329.6,89.8 329.7,86.9 329.8,95.3 329.9,97.8 330.0,82.1 330.2,100.2 330.2,100.7 330.3,84.6 330.5,94.9 330.5,93.7 330.6,87.8 330.8,90.9 330.8,90.4 330.9,89.8 331.2,89.5 331.3,89.8 331.5,88.6 331.8,86.3 331.8,86.1 332.2,84.6 332.2,84.6 332.3,81.5 332.3,84.0 332.4,91.4 332.5,81.6 332.6,76.3 332.7,93.6 332.8,80.7 332.9,77.9 333.0,88.0 333.2,81.2 333.2,81.7 333.3,84.4 333.3,84.5 333.5,83.4 333.5,83.5 333.8,83.1 334.2,83.2 334.5,83.4 334.5,84.8 334.6,87.5 334.7,78.3 334.8,91.4 334.9,95.8 335.0,77.7 335.1,86.8 335.2,94.4 335.2,94.5 335.3,84.1 335.5,91.0 335.5,90.4 335.6,88.4 335.7,89.1 335.8,89.3 335.8,89.9 336.2,90.5 336.5,91.0 336.8,91.6 336.8,91.5 336.8,91.4 336.9,94.5 337.1,82.8 337.2,92.9 337.2,100.7 337.4,78.9 337.5,93.1 337.5,96.8 337.6,90.7 337.7,84.1 337.8,91.3 337.8,91.2 338.0,87.2 338.1,88.0 338.2,87.7 338.5,87.1 338.8,88.2 339.0,88.8 339.1,85.9 339.2,90.4 339.2,95.6 339.3,90.2 339.4,80.7 339.5,92.9 339.5,98.4 339.7,84.4 339.8,94.4 339.8,94.8 340.0,89.7 340.1,92.3 340.1,92.9 340.2,92.9 340.3,91.9 340.5,90.7 340.8,90.2 340.9,89.8 341.2,88.7 341.5,87.9 341.8,89.5 341.9,90.0 342.0,93.3 342.2,84.1 342.2,83.4 342.3,98.0 342.3,100.8 342.5,81.0 342.5,83.5 342.6,97.2 342.8,85.6 342.8,88.1 342.9,92.1 343.1,88.4 343.1,88.5 343.2,89.1 343.2,89.3 343.5,88.7 343.8,88.2 343.9,88.0 344.2,89.7 344.4,90.8 344.5,86.5 344.5,85.3 344.7,96.9 344.7,93.8 344.8,75.0 344.8,75.9 345.0,100.5 345.1,82.9 345.2,87.0 345.3,99.6 345.4,93.1 345.5,96.3 345.6,99.4 345.6,99.5 345.7,98.3 345.8,98.1 346.2,96.6 346.5,95.5 346.6,94.9 346.8,94.1 347.2,92.7 347.3,92.4 347.4,88.6 347.5,98.5 347.5,99.3 347.7,81.9 347.8,98.3 347.8,101.3 347.8,99.4 348.0,84.1 348.1,94.6 348.2,92.8 348.3,87.7 348.4,91.1 348.5,90.7 348.6,89.9 348.8,89.6 348.8,89.7 349.2,89.2 349.4,89.2 349.5,89.3 349.8,89.6 349.8,89.9 349.9,92.8 350.1,82.2 350.1,85.5 350.2,93.4 350.2,99.9 350.4,79.5 350.5,94.5 350.5,96.9 350.7,85.3 350.8,92.3 350.8,91.7 351.0,89.2 351.1,89.7 351.2,89.6 351.5,89.9 351.8,89.9 352.2,89.7 352.2,89.5 352.3,91.9 352.4,82.0 352.5,89.4 352.6,95.1 352.7,79.1 352.8,91.1 352.9,93.4 353.0,85.0 353.2,91.0 353.2,91.1 353.3,88.7 353.5,89.8 353.5,89.5 353.8,89.5 354.2,90.1 354.5,89.9 354.6,89.4 354.7,86.4 354.8,95.6 354.9,97.9 355.0,79.9 355.2,100.7 355.2,100.7 355.3,82.9 355.5,94.7 355.5,92.9 355.6,87.4 355.8,90.9 355.8,90.4 355.9,89.5 356.2,89.7 356.5,89.8 356.8,89.7 357.0,89.7 357.1,94.0 357.2,88.1 357.2,80.8 357.4,102.1 357.5,85.9 357.5,78.3 357.7,98.4 357.8,85.8 357.8,84.6 358.0,93.1 358.1,88.9 358.2,88.7 358.3,89.6 358.5,89.6 358.8,90.0 359.2,89.6 359.5,89.8 359.6,89.7 359.7,95.3 359.7,93.7 359.8,80.8 359.8,86.3 360.0,104.4 360.1,76.5 360.2,85.6 360.2,86.1 360.3,97.5 360.4,80.6 360.5,86.2 360.6,88.8 360.7,84.2 360.7,83.0 360.8,83.9 360.9,84.3 361.2,83.9 361.5,83.7 361.7,83.7 361.8,83.5 362.0,83.4 362.1,79.7 362.2,85.8 362.2,91.7 362.4,72.0 362.5,88.5 362.5,94.3 362.7,75.5 362.8,87.9 362.8,88.5 362.9,86.9 363.0,81.7 363.1,86.2 363.2,86.5 363.3,86.1 363.5,86.7 363.5,87.1 363.8,88.4 364.1,89.5 364.2,89.8 364.4,90.1 364.5,88.3 364.5,86.9 364.7,94.6 364.8,81.7 364.8,80.4 365.0,96.8 365.1,84.3 365.2,85.7 365.2,85.5 365.3,93.4 365.4,87.9 365.5,89.2 365.6,91.0 365.7,89.8 365.8,89.6 366.0,89.4 366.2,88.8 366.5,88.0 366.6,87.9 366.7,92.1 366.8,83.9 366.8,83.5 366.9,87.1 367.0,99.7 367.1,82.9 367.2,86.0 367.3,96.8 367.4,86.7 367.5,89.2 367.6,92.6 367.7,90.8 367.7,89.4 367.8,90.3 367.9,90.7 368.2,91.4 368.5,92.1 368.5,92.2 368.8,90.9 368.9,91.0 369.0,86.8 369.1,97.3 369.2,94.1 369.3,80.9 369.3,78.4 369.4,98.2 369.5,91.5 369.6,80.9 369.7,92.4 369.8,87.8 369.9,85.9 369.9,85.1 370.0,89.6 370.2,89.5 370.2,89.6 370.5,91.1 370.7,92.1 370.8,91.3 371.2,90.8 371.5,89.5 371.5,89.0 371.8,88.9 371.9,88.9 372.0,89.7 372.2,85.4 372.2,84.9 372.3,88.4 372.3,91.9 372.5,84.9 372.5,84.9 372.6,92.5 372.8,89.0 372.8,90.1 372.9,92.6 373.1,92.1 373.1,92.0 373.2,92.9 373.2,93.8 373.5,95.2 373.8,97.6 374.0,98.5 374.2,98.0 374.3,97.4 374.4,102.3 374.5,89.4 374.5,85.4 374.7,110.9 374.8,81.0 374.8,80.5 375.0,102.5 375.0,105.4 375.1,87.2 375.2,89.8 375.3,97.4 375.4,91.8 375.5,91.9 375.6,92.3 375.8,91.6 376.2,90.3 376.2,90.4 376.5,89.8 376.5,89.9 376.6,85.5 376.8,94.4 376.8,87.3 376.9,77.1 377.1,95.5 377.2,86.2 377.2,85.8 377.2,81.1 377.4,92.0 377.5,87.1 377.5,86.2 377.7,90.0 377.8,89.3 377.8,89.4 377.8,89.1 378.2,89.3 378.5,89.6 378.5,89.7 378.8,89.6 379.2,90.2 379.2,89.6 379.3,92.0 379.4,80.6 379.5,88.6 379.6,96.1 379.7,77.7 379.8,89.7 379.9,93.8 380.0,84.4 380.2,91.2 380.2,91.0 380.3,88.7 380.5,89.4 380.5,89.7 380.8,89.9 381.2,89.6 381.5,89.5 381.8,90.0 382.1,89.5 382.2,89.0 382.2,86.1 382.4,95.7 382.5,84.9 382.5,80.0 382.7,97.5 382.8,83.7 382.8,82.7 383.0,93.2 383.1,87.4 383.2,87.9 383.3,90.6 383.4,89.9 383.5,89.8 383.8,90.2 384.2,89.7 384.3,89.8 384.4,93.8 384.5,86.2 384.5,86.0 384.7,102.5 384.8,84.8 384.8,87.1 385.0,99.1 385.1,87.2 385.2,89.5 385.3,93.2 385.4,89.2 385.5,89.4 385.6,89.7 385.8,89.7 386.2,89.9 386.5,89.9 386.7,89.7 386.8,92.2 386.8,92.9 387.0,83.2 387.1,98.1 387.2,96.0 387.3,80.5 387.4,95.7 387.5,91.9 387.6,85.4 387.7,91.8 387.8,90.0 387.9,89.0 388.0,89.8 388.0,89.6 388.2,88.7 388.5,86.6 388.5,86.2 388.8,84.9 389.0,83.8 389.1,83.7 389.2,88.2 389.2,91.0 389.4,79.0 389.5,103.1 389.5,104.4 389.7,76.9 389.8,98.1 389.8,94.5 390.0,80.6 390.0,84.8 390.1,88.7 390.2,86.2 390.3,82.5 390.4,83.5 390.5,83.4 390.8,83.5 391.1,83.9 391.2,85.4 391.2,88.4 391.2,87.5 391.4,75.2 391.5,95.0 391.5,99.4 391.7,74.0 391.8,96.8 391.8,95.7 391.8,95.7 392.0,82.0 392.1,91.5 392.2,90.9 392.3,87.9 392.4,89.3 392.4,89.5 392.5,89.5 392.8,90.0 393.2,90.9 393.5,91.6 393.5,92.0 393.8,90.6 393.9,90.6 394.0,84.5 394.1,99.9 394.2,96.8 394.3,72.8 394.3,81.2 394.4,102.4 394.5,94.0 394.6,77.4 394.7,94.5 394.8,88.5 394.9,84.1 395.0,88.9 395.2,87.6 395.2,87.2 395.2,87.2 395.5,87.8 395.8,89.0 396.0,90.2 396.2,90.3 396.4,91.1 396.5,93.1 396.5,94.7 396.7,84.0 396.8,100.9 396.8,101.5 396.8,101.8 397.0,81.3 397.1,98.0 397.2,95.8 397.3,86.2 397.4,93.0 397.5,91.1 397.6,89.0 397.6,89.0 397.7,89.3 397.8,88.9 398.2,87.8 398.2,87.8 398.5,89.2 398.8,91.2 399.0,91.6 399.0,91.2 399.1,88.8 399.2,92.4 399.3,98.4 399.4,82.7 399.5,92.5 399.6,99.2 399.7,84.4 399.8,91.5 399.8,92.0 399.9,93.7 400.0,87.0 400.2,89.9 400.2,89.8 400.3,88.3 400.5,88.1 400.6,88.1 400.8,89.5 401.2,91.0 401.3,91.9 401.4,97.3 401.4,97.0 401.5,88.6 401.6,76.6 401.7,108.0 401.8,85.2 401.9,72.6 402.0,106.3 402.2,90.0 402.2,87.4 402.3,102.4 402.3,102.2 402.5,95.7 402.5,96.2 402.6,97.6 402.8,97.1 403.2,95.6 403.3,95.2 403.5,94.3 403.8,92.8 404.0,91.9 404.1,94.4 404.2,91.4 404.3,83.9 404.4,98.6 404.5,89.2 404.5,84.2 404.6,80.5 404.7,95.5 404.8,88.5 404.9,86.0 405.0,92.2 405.2,89.4 405.2,89.2 405.3,89.7 405.5,89.8 405.5,89.7 405.8,89.3 406.1,89.0 406.2,89.3 406.4,89.2 406.5,92.7 406.5,93.2 406.7,82.3 406.8,100.6 406.8,97.5 406.8,96.5 407.0,80.1 407.1,97.3 407.2,92.9 407.3,85.3 407.4,92.2 407.5,90.1 407.6,88.6 407.7,89.8 407.8,89.8 408.2,89.7 408.5,89.8 408.8,89.8 408.9,89.5 409.0,87.4 409.2,97.7 409.2,97.6 409.3,82.7 409.5,100.3 409.5,96.9 409.6,85.1 409.8,94.6 409.8,91.8 409.9,88.1 410.1,90.5 410.2,90.3 410.2,89.5 410.5,89.9 410.8,89.8 411.1,89.6 411.2,88.5 411.2,86.0 411.4,97.4 411.5,83.5 411.5,79.5 411.7,99.1 411.8,82.8 411.8,82.4 412.0,94.4 412.1,87.2 412.2,88.1 412.3,90.6 412.4,89.8 412.5,89.7 412.8,89.9 413.2,89.8 413.3,89.5 413.4,94.2 413.5,89.4 413.6,84.6 413.7,102.1 413.8,87.8 413.9,82.8 414.0,98.4 414.2,86.9 414.2,86.8 414.3,92.5 414.5,88.8 414.5,89.3 414.6,89.8 414.8,89.9 415.2,89.7 415.5,89.6 415.8,90.0 416.2,89.6 416.3,90.0 416.4,92.5 416.4,89.5 416.5,80.6 416.5,79.0 416.7,95.5 416.8,73.8 416.8,74.9 416.9,84.4 417.0,91.4 417.1,78.9 417.2,81.4 417.3,86.3 417.4,82.4 417.4,82.4 417.5,82.9 417.6,83.4 417.8,83.3 418.2,83.1 418.4,83.1 418.5,83.0 418.7,83.1 418.8,78.2 418.8,83.3 418.9,90.2 419.1,70.4 419.2,84.5 419.2,92.5 419.4,74.1 419.5,86.1 419.5,87.7 419.6,82.8 419.7,80.5 419.8,85.5 419.8,85.4 420.0,85.1 420.2,86.5 420.2,86.8 420.5,88.1 420.8,89.2 420.8,89.3 421.2,90.1 421.3,90.6 421.4,95.0 421.5,85.7 421.6,80.4 421.7,103.2 421.8,81.4 421.9,77.3 421.9,85.3 422.0,99.7 422.2,84.6 422.2,85.1 422.3,93.0 422.5,88.7 422.5,88.9 422.6,89.3 422.7,89.2 422.8,89.0 423.2,88.3 423.5,87.2 423.6,86.9 423.8,87.6 423.8,87.8 423.9,83.9 424.1,99.9 424.2,89.4 424.2,77.6 424.4,104.4 424.4,102.4 424.5,88.9 424.5,82.2 424.7,97.2 424.8,89.3 424.8,88.6 425.0,93.3 425.1,92.6 425.2,92.4 425.2,92.5 425.4,91.9 425.5,34.3 425.6,91.3 425.8,90.4 426.0,90.0 426.2,89.2 426.3,89.0 426.4,82.1 426.5,100.7 426.5,102.7 426.6,81.5 426.7,69.7 426.8,108.5 426.8,104.4 427.0,76.6 427.1,99.2 427.2,94.7 427.3,86.6 427.3,88.5 427.4,116.6 427.4,114.8 427.4,113.9 427.5,92.6 427.6,91.6 427.8,90.7 427.9,90.5 428.0,64.3 428.1,89.8 428.2,89.5 428.2,89.4 428.5,89.0 428.7,88.8 428.8,93.5 428.8,86.1 428.9,77.9 429.0,94.1 429.1,102.7 429.2,84.0 429.2,75.5 429.4,100.4 429.5,86.3 429.5,84.8 429.7,95.3 429.8,91.3 429.8,91.3 429.8,91.6 430.0,93.9 430.2,95.2 430.5,97.9 430.7,99.4 430.8,98.8 431.2,97.3 431.4,96.4 431.5,92.6 431.5,93.0 431.7,102.3 431.7,95.3 431.8,84.8 431.8,89.1 432.0,103.8 432.1,86.7 432.2,91.5 432.3,97.1 432.4,90.0 432.5,91.6 432.6,92.5 432.7,91.5 432.8,90.6 432.9,90.5 433.2,90.4 433.5,90.1 433.8,89.8 433.9,89.6 433.9,88.4 434.0,86.3 434.1,97.1 434.2,90.9 434.3,80.1 434.4,99.8 434.5,89.8 434.5,88.4 434.6,82.7 434.7,93.9 434.8,88.0 434.9,87.0 435.0,90.6 435.2,89.4 435.2,89.9 435.2,89.9 435.5,89.8 435.8,89.9 436.2,89.6 436.4,89.8 436.5,87.2 436.5,89.0 436.6,94.8 436.8,83.5 436.8,89.3 436.9,96.5 437.1,85.5 437.2,90.4 437.2,92.7 437.4,88.1 437.5,89.9 437.5,90.2 437.7,89.9 437.8,89.7 438.2,89.9 438.5,89.6 438.8,89.9 438.9,89.6 439.0,87.6 439.2,93.3 439.2,93.7 439.3,84.1 439.5,94.7 439.5,93.3 439.6,85.4 439.8,92.0 439.8,90.4 439.9,88.0 440.1,90.2 440.2,89.7 440.2,90.0 440.5,89.6 440.8,89.8 441.2,89.8 441.5,89.7 441.8,89.7 441.8,89.1 441.9,85.7 442.1,98.0 442.2,85.5 442.2,77.2 442.4,100.9 442.5,84.3 442.5,81.1 442.7,94.6 442.8,86.5 442.8,87.0 443.0,90.8 443.1,90.0 443.2,89.7 443.5,89.6 443.8,89.8 444.2,89.6 444.5,90.1 444.6,90.1 444.7,86.6 444.8,93.5 444.8,96.5 444.8,96.0 445.0,79.1 445.1,97.0 445.2,92.9 445.3,80.4 445.3,80.4 445.4,89.9 445.5,87.2 445.6,83.0 445.7,85.3 445.8,84.9 445.8,84.7 445.9,84.3 446.2,84.0 446.5,83.7 446.8,84.0 446.8,83.7 447.2,83.8 447.2,83.7 447.3,79.2 447.5,95.2 447.5,94.4 447.6,71.2 447.8,98.7 447.8,92.6 447.9,75.1 448.0,78.5 448.1,91.5 448.2,86.8 448.2,82.3 448.4,87.6 448.5,87.1 448.5,86.6 448.6,87.3 448.8,88.2 449.2,89.7 449.2,89.4 449.5,90.1 449.6,90.2 449.7,92.4 449.8,84.1 449.9,80.7 450.0,96.1 450.2,79.0 450.2,78.1 450.3,90.0 450.3,95.1 450.5,84.8 450.5,86.1 450.6,91.5 450.8,89.1 450.8,89.4 450.9,90.0 451.1,89.4 451.2,88.9 451.5,88.3 451.8,87.8 451.8,89.8 451.9,90.5 452.0,85.0 452.0,83.6 452.2,96.4 452.2,96.3 452.3,83.3 452.5,94.6 452.5,92.8 452.6,87.0 452.8,91.9 452.8,91.6 452.8,90.6 452.9,89.7 453.1,90.8 453.2,91.5 453.5,92.1 453.6,92.6 453.8,91.8 454.2,90.3 454.4,89.6 454.5,89.7 454.6,88.9 454.7,91.5 454.8,83.3 454.8,82.3 455.0,94.8 455.0,96.1 455.1,81.1 455.2,83.1 455.3,94.9 455.4,86.9 455.5,89.2 455.6,93.1 455.7,90.9 455.8,91.3 455.8,91.2 455.9,91.7 456.2,90.9 456.5,89.8 456.6,89.5 456.8,89.2 457.2,88.5 457.4,87.8 457.4,88.6 457.5,86.4 457.5,85.0 457.7,95.3 457.8,80.3 457.8,80.2 458.0,98.6 458.1,84.7 458.2,87.2 458.2,88.2 458.3,96.1 458.4,91.3 458.5,93.5 458.6,95.8 458.7,96.0 458.8,96.5 459.1,98.3 459.2,98.0 459.5,96.8 459.8,95.8 459.9,95.0 460.0,98.4 460.1,94.3 460.2,85.4 460.2,82.5 460.3,104.1 460.5,77.6 460.5,78.4 460.6,99.9 460.8,84.9 460.8,87.6 460.9,94.1 461.1,89.7 461.2,90.0 461.2,90.5 461.3,90.2 461.5,90.1 461.8,90.0 462.2,89.7 462.3,89.7 462.5,89.5 462.7,89.3 462.8,86.2 462.8,91.2 462.9,94.0 462.9,95.8 463.1,80.3 463.2,93.4 463.2,98.0 463.4,83.3 463.5,93.5 463.5,93.6 463.6,90.6 463.7,87.3 463.8,90.7 463.8,90.5 464.0,89.6 464.2,89.8 464.5,89.8 464.8,89.5 465.2,89.5 465.4,89.6 465.5,87.0 465.5,85.4 465.7,98.5 465.8,77.6 465.8,76.7 466.0,101.7 466.1,80.6 466.2,83.2 466.3,95.0 466.4,86.2 466.5,88.2 466.6,91.2 466.7,89.9 466.8,90.0 467.2,89.9 467.5,89.7 467.8,89.7 468.2,89.9 468.2,89.7 468.3,93.6 468.5,82.0 468.5,83.3 468.6,100.4 468.8,78.8 468.8,84.6 468.9,96.9 469.1,84.7 469.2,88.8 469.2,92.4 469.4,88.8 469.5,89.5 469.5,89.6 469.8,89.8 470.2,89.6 470.5,89.6 470.8,89.7 471.1,89.7 471.2,87.5 471.2,87.5 471.3,95.9 471.5,83.1 471.5,86.5 471.6,97.9 471.8,84.8 471.8,89.0 471.9,93.5 472.1,88.1 472.2,90.1 472.2,90.7 472.4,90.0 472.5,89.9 472.8,89.8 473.2,89.7 473.2,89.5 473.5,87.6 473.5,86.5 473.6,82.6 473.7,89.5 473.7,96.6 473.8,80.3 473.9,73.1 474.0,98.5 474.2,79.5 474.2,77.1 474.2,75.1 474.3,90.1 474.5,81.0 474.5,81.4 474.6,85.4 474.8,83.7 474.8,83.8 475.2,83.2 475.2,83.4 475.5,83.7 475.8,83.6 476.2,83.9 476.4,83.7 476.5,84.3 476.5,85.1 476.6,89.3 476.7,76.5 476.8,90.8 476.9,98.0 477.0,87.6 477.0,75.1 477.2,93.5 477.2,96.1 477.3,82.9 477.5,92.0 477.5,91.6 477.6,90.6 477.6,88.4 477.8,90.1 477.8,90.2 478.2,90.5 478.5,91.2 478.7,91.7 478.7,91.6 478.8,87.1 478.8,89.9 478.9,93.1 479.1,78.7 479.2,89.5 479.2,93.4 479.4,81.4 479.5,86.9 479.5,90.0 479.5,90.7 479.7,85.6 479.8,88.5 479.8,88.7 480.0,88.3 480.2,87.3 480.4,87.3 480.5,87.5 480.8,88.4 481.2,89.9 481.2,89.8 481.5,90.9 481.5,90.3 481.6,89.5 481.7,98.2 481.8,89.9 481.9,87.5 482.0,95.2 482.0,101.4 482.2,88.6 482.2,88.1 482.3,95.5 482.5,89.6 482.5,89.9 482.6,91.3 482.8,90.2 482.8,89.5 482.8,89.6 483.2,88.5 483.4,87.9 483.5,88.8 483.8,90.5 484.2,92.0 484.2,91.5 484.2,91.9 484.3,95.3 484.4,80.9 484.5,92.4 484.6,101.8 484.7,76.1 484.8,92.8 484.9,97.4 485.0,89.3 485.0,83.2 485.2,92.1 485.2,91.7 485.3,87.7 485.5,88.8 485.5,88.6 485.8,88.2 485.8,88.5 486.2,90.2 486.5,92.2 486.6,92.5 486.8,94.5 487.0,95.4 487.1,100.5 487.2,93.1 487.2,88.5 487.4,109.8 487.5,98.9 487.5,91.1 487.5,86.5 487.7,105.6 487.8,92.3 487.8,92.2 488.0,99.1 488.1,94.7 488.2,94.8 488.3,95.5 488.5,95.1 488.5,94.8 488.8,93.3 489.2,92.0 489.5,91.0 489.7,90.4 489.8,90.2 490.1,90.4 490.2,86.6 490.2,85.1 490.3,99.1 490.5,76.6 490.5,77.6 490.6,102.5 490.7,101.4 490.8,80.7 490.8,84.3 490.9,95.2 491.1,85.6 491.2,88.2 491.2,90.4 491.3,90.7 491.4,89.1 491.5,89.5 491.8,89.7 492.0,90.1 492.2,89.6 492.5,89.6 492.8,89.9 493.1,89.7 493.2,93.2 493.2,94.0 493.3,83.0 493.5,101.9 493.5,100.4 493.6,80.9 493.8,98.6 493.8,95.0 493.9,85.9 494.1,92.7 494.2,90.7 494.2,89.0 494.4,89.7 494.5,90.1 494.8,89.8 495.2,89.7 495.3,89.6 495.4,86.7 495.5,94.2 495.5,97.2 495.7,80.6 495.8,98.6 495.8,100.4 496.0,83.6 496.1,94.3 496.2,93.3 496.3,87.4 496.4,90.9 496.5,90.5 496.6,89.6 496.8,89.5 497.2,89.8 497.3,90.0 497.4,87.1 497.5,91.5 497.6,97.4 497.7,82.9 497.8,93.5 497.9,100.1 498.0,84.9 498.2,93.4 498.2,94.5 498.3,88.2 498.5,90.8 498.5,90.6 498.6,89.9 498.8,89.5 499.2,89.9 499.5,89.8 499.8,89.7 500.1,90.0 500.2,91.1 500.2,93.7 500.4,77.7 500.5,95.9 500.5,101.3 500.7,73.6 500.8,98.0 500.8,98.0 501.0,82.6 501.1,92.7 501.2,91.7 501.3,88.0 501.4,90.2 501.5,90.0 501.5,90.1 501.8,87.8 502.0,87.0 502.2,86.3 502.4,85.4 502.5,81.2 502.5,82.8 502.5,83.8 502.6,90.9 502.8,74.6 502.8,81.3 502.9,92.4 503.1,77.3 503.2,83.7 503.2,87.9 503.4,81.6 503.5,84.2 503.5,84.7 503.5,84.8 503.7,84.1 503.8,84.0 504.2,84.0 504.5,84.2 504.7,83.9 504.8,85.1 504.9,85.3 505.0,80.3 505.2,93.0 505.2,93.8 505.3,72.8 505.3,72.4 505.5,97.4 505.5,93.7 505.6,78.3 505.8,93.4 505.8,90.3 505.9,86.1 505.9,86.0 506.1,90.8 506.2,90.4 506.2,90.0 506.5,90.5 506.8,90.9 507.0,91.4 507.2,91.1 507.5,90.3 507.7,89.5 507.8,83.3 507.8,83.1 507.8,84.1 508.0,97.6 508.1,71.7 508.2,79.1 508.3,100.1 508.4,75.9 508.5,84.3 508.6,93.1 508.7,83.5 508.7,83.4 508.8,87.4 508.9,88.9 509.0,87.6 509.2,88.6 509.5,89.7 509.5,89.9 509.8,90.4 509.8,93.6 509.9,96.1 510.0,83.3 510.2,104.1 510.2,106.1 510.3,83.5 510.3,81.7 510.5,102.0 510.5,100.3 510.6,86.7 510.8,94.3 510.8,92.6 510.9,89.2 511.1,89.8 511.1,89.9 511.2,89.6 511.5,88.9 511.7,88.0 511.7,87.3 511.8,86.3 511.8,88.7 511.9,96.0 512.1,84.3 512.2,91.0 512.2,99.9 512.4,87.6 512.5,93.2 512.5,94.2 512.5,96.0 512.7,89.9 512.8,91.6 512.8,91.4 513.0,90.3 513.2,90.0 513.3,89.6 513.5,89.0 513.8,88.6 514.1,88.4 514.2,88.4 514.3,89.5 514.4,94.4 514.5,87.8 514.6,80.6 514.7,104.4 514.8,86.2 514.9,78.4 514.9,85.0 515.0,102.1 515.2,89.0 515.2,87.7 515.3,98.4 515.5,94.8 515.5,94.7 515.6,96.6 515.8,97.8 515.8,97.9 516.2,96.9 516.5,95.6 516.8,94.3 516.8,94.4 516.9,94.2 517.0,89.5 517.1,101.0 517.2,97.0 517.3,79.7 517.4,102.5 517.5,94.7 517.6,82.8 517.7,95.6 517.8,90.8 517.9,87.5 518.0,91.1 518.0,91.5 518.2,90.3 518.2,90.0 518.5,90.2 518.8,90.0 519.0,89.6 519.2,89.7 519.4,89.6 519.5,93.8 519.5,91.8 519.6,84.2 519.6,84.6 519.8,102.5 519.8,93.8 519.9,83.0 520.1,98.9 520.2,90.9 520.2,86.6 520.3,91.4 520.4,92.8 520.5,89.5 520.5,89.1 520.7,89.7 520.8,89.7 521.2,89.5 521.5,89.8 521.8,89.8 521.9,89.8 522.0,84.8 522.2,95.8 522.2,97.1 522.3,76.4 522.5,99.4 522.5,96.6 522.6,80.4 522.8,93.7 522.8,91.6 522.9,86.2 523.1,90.6 523.2,90.3 523.2,89.8 523.5,89.8 523.8,89.7 524.2,89.6 524.2,90.0 524.3,95.4 524.5,78.7 524.5,83.9 524.6,106.4 524.8,74.7 524.8,86.0 524.9,101.3 525.1,83.1 525.2,90.2 525.2,93.8 525.4,88.2 525.5,89.2 525.5,90.1 525.8,89.8 526.2,89.6 526.3,90.0 526.4,86.3 526.5,92.0 526.6,96.9 526.7,79.9 526.8,95.0 526.9,99.4 527.0,82.6 527.2,94.1 527.2,94.1 527.3,87.4 527.5,90.8 527.5,90.4 527.6,89.7 527.8,89.4 527.8,74.2 527.9,43.4 528.0,89.8 528.2,89.7 528.5,89.7 528.8,89.7 528.8,90.8 528.9,94.9 529.1,78.8 529.2,96.3 529.2,105.2 529.4,75.3 529.5,97.5 529.5,100.9 529.7,83.3 529.8,93.5 529.8,93.1 529.9,90.9 529.9,90.6 530.0,108.2 530.0,118.2 530.1,88.4 530.1,88.5 530.2,88.3 530.4,87.0 530.5,86.2 530.8,84.5 530.9,84.3 531.1,84.3 531.2,79.9 531.2,79.9 531.3,91.7 531.3,86.1 531.4,50.3 531.5,62.9 531.5,75.6 531.6,97.4 531.8,74.5 531.8,80.5 531.9,86.1 531.9,89.8 532.1,80.4 532.2,83.3 532.2,85.0 532.4,83.5 532.5,83.9 532.8,83.9 533.1,84.0 533.1,84.8 533.2,87.4 533.2,92.5 533.4,74.9 533.5,101.5 533.5,108.3 533.7,72.8 533.7,74.8 533.8,103.0 533.8,102.7 534.0,81.9 534.1,94.6 534.2,92.7 534.3,88.1 534.3,88.2 534.4,89.7 534.5,89.9 534.8,90.2 535.2,90.8 535.4,91.1 535.5,91.0 535.8,90.3 535.8,90.2 535.9,94.1 536.1,83.1 536.2,92.8 536.2,96.2 536.2,101.6 536.4,79.9 536.5,93.3 536.5,97.2 536.7,84.3 536.8,90.9 536.8,90.8 537.0,86.6 537.1,87.2 537.1,87.4 537.2,87.4 537.5,88.4 537.8,90.1 537.9,89.9 538.2,90.7 538.4,91.3 538.5,98.1 538.5,93.7 538.6,79.6 538.7,95.5 538.8,110.8 538.8,94.3 538.9,75.3 539.1,104.2 539.2,89.7 539.2,83.2 539.4,95.2 539.5,89.1 539.5,88.8 539.5,88.1 539.7,89.0 539.8,88.6 540.1,87.9 540.2,88.1 540.5,89.9 540.8,91.6 540.9,91.8 541.0,91.4 541.1,96.4 541.2,93.4 541.3,81.0 541.4,105.2 541.5,93.4 541.6,76.7 541.7,92.6 541.7,99.8 541.8,89.3 541.9,83.4 542.0,92.6 542.2,87.4 542.3,88.5 542.5,88.0" stroke="#0072BD" stroke-width="0.8"/>
<polyline points="25.5,89.2 26.4,87.1 26.5,87.3 27.2,89.8 27.5,90.7 28.0,92.5 28.5,90.9 28.8,89.8 29.4,87.7 29.5,88.1 30.2,92.1 30.5,91.2 31.0,89.5 31.5,88.6 31.8,88.0 32.5,91.9 32.6,92.7 33.5,98.9 33.5,99.1 34.5,95.2 34.5,95.0 35.5,91.2 35.7,90.3 36.5,89.9 36.7,89.8 37.3,89.2 37.5,89.3 38.0,89.8 38.5,89.8 39.5,89.8 40.5,89.8 41.5,89.8 42.5,89.8 43.5,89.8 44.5,89.8 45.5,89.8 46.5,89.8 47.5,89.8 47.6,89.8 48.1,86.6 48.5,84.5 48.6,84.0 49.5,83.5 49.6,83.4 50.5,83.6 50.8,83.6 51.4,86.9 51.5,87.3 52.0,89.5 52.5,90.4 53.1,91.5 53.5,90.3 53.9,89.2 54.5,87.9 54.8,87.2 55.5,89.4 55.6,89.8 56.4,92.4 56.5,92.1 57.2,89.8 57.5,88.8 57.8,87.8 58.5,91.5 58.6,92.0 59.4,89.5 59.5,89.3 60.2,88.0 60.5,89.7 61.0,92.6 61.5,96.1 61.9,98.8 62.5,96.4 62.9,94.9 63.5,92.6 64.1,90.3 64.5,90.1 65.1,89.8 65.5,89.4 65.7,89.2 66.4,89.8 66.5,89.8 67.5,89.8 68.5,89.8 69.5,89.8 70.5,89.8 71.5,89.8 72.5,89.8 73.5,89.8 74.5,89.8 75.5,89.8 76.0,89.8 76.5,86.7 76.5,86.6 77.0,84.2 77.5,83.9 78.0,83.6 78.5,83.7 79.2,83.9 79.5,85.6 79.8,87.0 80.4,89.5 80.5,89.7 81.5,91.4 81.5,91.3 82.3,89.2 82.5,88.7 83.2,87.3 83.5,88.3 84.0,89.8 84.5,91.5 84.8,92.3 85.5,90.0 85.6,89.8 86.2,87.8 86.5,89.5 87.0,91.9 87.5,90.3 87.8,89.5 88.5,88.2 88.6,88.1 89.4,92.5 89.5,93.3 90.3,98.5 90.5,97.6 91.3,94.7 91.5,93.8 92.5,90.3 92.5,90.3 93.5,89.8 93.5,89.7 94.1,89.2 94.5,89.5 94.8,89.8 95.5,89.8 96.5,89.8 97.5,89.8 98.5,89.8 99.5,89.8 100.5,89.8 101.5,89.8 102.5,89.8 103.5,89.8 104.3,89.8 104.5,88.8 104.8,86.7 105.3,84.0 105.5,83.9 106.3,83.5 106.5,83.5 107.5,83.7 107.5,83.7 108.1,86.9 108.5,88.5 108.7,89.5 109.5,90.8 109.8,91.4 110.5,89.6 110.6,89.2 111.5,87.3 111.5,87.2 112.3,89.8 112.5,90.3 113.1,92.4 113.5,91.2 113.9,89.8 114.5,87.9 114.5,87.8 115.3,92.0 115.5,91.5 116.1,89.5 116.5,88.8 116.9,88.1 117.5,91.2 117.7,92.6 118.5,97.8 118.6,98.7 119.5,95.4 119.6,94.8 120.5,91.6 120.8,90.3 121.5,89.9 121.8,89.8 122.4,89.2 122.5,89.2 123.1,89.8 123.5,89.8 124.5,89.8 125.5,89.8 126.5,89.8 127.5,89.8 128.5,89.8 129.5,89.8 130.5,89.8 131.5,89.8 132.5,89.8 132.7,89.8 133.2,86.8 133.5,85.3 133.7,84.2 134.5,83.8 134.7,83.7 135.5,83.8 135.9,83.9 136.5,87.0 136.5,87.0 137.1,89.5 137.5,90.2 138.2,91.4 138.5,90.6 139.0,89.2 139.5,88.2 139.9,87.3 140.5,89.1 140.7,89.8 141.5,92.3 141.5,92.3 142.3,89.8 142.5,89.1 142.9,87.9 143.5,90.9 143.7,91.9 144.5,89.5 144.5,89.5 145.3,88.1 145.5,89.2 146.1,92.5 146.5,95.1 147.0,98.4 147.5,96.6 148.0,94.6 148.5,92.9 149.2,90.3 149.5,90.1 150.2,89.8 150.5,89.5 150.8,89.2 151.5,89.7 151.5,89.8 152.5,89.8 153.5,89.8 154.5,89.8 155.5,89.8 156.5,89.8 157.5,89.8 158.5,89.8 159.5,89.8 160.5,89.8 161.1,89.8 161.5,87.1 161.6,86.6 162.1,83.8 162.5,83.6 163.1,83.3 163.5,83.3 164.3,83.5 164.5,84.7 164.9,86.9 165.5,89.5 165.5,89.5 166.5,91.3 166.6,91.5 167.4,89.2 167.5,88.9 168.3,87.1 168.5,87.9 169.1,89.8 169.5,91.2 169.9,92.5 170.5,90.4 170.7,89.8 171.3,87.7 171.5,88.9 172.1,92.1 172.5,90.7 172.9,89.5 173.5,88.3 173.7,88.0 174.5,92.6 174.5,92.8 175.4,99.0 175.5,98.5 176.4,95.0 176.5,94.5 177.5,90.6 177.6,90.3 178.5,89.8 178.6,89.8 179.2,89.2 179.5,89.4 179.9,89.8 180.5,89.8 181.5,89.8 182.5,89.8 183.5,89.8 184.5,89.8 185.5,89.8 186.5,89.8 187.5,89.8 188.5,89.8 189.4,89.8 189.5,89.4 189.9,86.3 190.4,83.4 190.5,83.4 191.4,82.8 191.5,82.8 192.5,83.0 192.6,83.0 193.2,86.6 193.5,87.8 193.8,89.4 194.5,90.7 194.9,91.6 195.5,89.9 195.8,89.1 196.5,87.3 196.6,86.9 197.4,89.8 197.5,89.9 198.2,92.7 198.5,91.8 199.0,89.8 199.5,88.1 199.6,87.6 200.4,92.2 200.5,92.1 201.2,89.4 201.5,89.0 202.0,87.9 202.5,90.7 202.8,92.9 203.5,97.8 203.8,99.7 204.5,96.5 204.8,95.4 205.5,92.2 205.9,90.4 206.5,90.0 206.9,89.8 207.5,89.2 207.5,89.1 208.2,89.8 208.5,89.8 209.5,89.8 210.5,89.8 211.5,89.8 212.5,89.8 213.5,89.8 214.5,89.8 215.5,89.8 216.5,89.8 217.5,89.8 217.8,89.8 218.3,86.7 218.5,85.7 218.8,84.0 219.5,83.7 219.8,83.5 220.5,83.6 221.0,83.7 221.5,86.3 221.6,87.0 222.2,89.5 222.5,90.0 223.3,91.4 223.5,90.9 224.1,89.2 224.5,88.4 225.0,87.2 225.5,88.7 225.8,89.8 226.5,92.0 226.6,92.4 227.4,89.8 227.5,89.5 228.0,87.8 228.5,90.3 228.8,92.0 229.5,89.8 229.6,89.5 230.4,88.1 230.5,88.5 231.2,92.5 231.5,94.5 232.1,98.7 232.5,97.2 233.1,94.8 233.5,93.4 234.3,90.3 234.5,90.2 235.3,89.8 235.5,89.6 235.9,89.2 236.5,89.7 236.6,89.8 237.5,89.8 238.5,89.8 239.5,89.8 240.5,89.8 241.5,89.8 242.5,89.8 243.5,89.8 244.5,89.8 245.5,89.8 246.2,89.8 246.5,87.9 246.7,86.7 247.2,84.1 247.5,83.9 248.2,83.5 248.5,83.6 249.4,83.8 249.5,84.3 250.0,87.0 250.5,89.1 250.6,89.5 251.5,91.1 251.7,91.4 252.5,89.2 252.5,89.2 253.4,87.3 253.5,87.6 254.2,89.8 254.5,90.8 255.0,92.4 255.5,90.7 255.8,89.8 256.4,87.8 256.5,88.4 257.2,92.0 257.5,91.0 258.0,89.5 258.5,88.6 258.8,88.1 259.5,92.0 259.6,92.5 260.5,98.6 260.5,98.6 261.5,94.7 261.5,94.7 262.5,91.0 262.7,90.3 263.5,89.9 263.7,89.8 264.3,89.2 264.5,89.4 265.0,89.8 265.5,89.8 266.5,89.8 267.5,89.8 268.5,89.8 269.5,89.8 270.5,89.8 271.5,89.8 272.5,89.8 273.5,89.8 274.5,89.8 274.6,89.8 275.1,86.5 275.5,84.0 275.6,83.7 276.5,83.1 276.6,83.1 277.5,83.3 277.8,83.3 278.4,86.8 278.5,87.4 279.0,89.5 279.5,90.5 280.1,91.5 280.5,90.2 280.9,89.2 281.5,87.7 281.8,87.1 282.5,89.5 282.6,89.8 283.4,92.5 283.5,92.1 284.2,89.8 284.5,88.6 284.8,87.7 285.5,91.8 285.6,92.1 286.4,89.5 286.5,89.2 287.2,88.0 287.5,90.0 288.0,92.7 288.5,96.6 288.9,99.3 289.5,96.6 289.9,95.1 290.5,92.6 291.1,90.3 291.5,90.1 292.1,89.8 292.5,89.3 292.7,89.2 293.4,89.8 293.5,89.8 294.5,89.8 295.5,89.8 296.5,89.8 297.5,89.8 298.5,89.8 299.5,89.8 300.5,89.8 301.5,89.8 302.5,89.8 302.9,89.8 303.4,86.5 303.5,86.1 303.9,83.7 304.5,83.4 304.9,83.1 305.5,83.3 306.1,83.4 306.5,85.5 306.7,86.8 307.3,89.5 307.5,89.8 308.4,91.5 308.5,91.3 309.2,89.2 309.5,88.5 310.1,87.1 310.5,88.3 310.9,89.8 311.5,91.7 311.7,92.5 312.5,89.9 312.5,89.8 313.1,87.7 313.5,89.7 313.9,92.1 314.5,90.2 314.7,89.5 315.5,88.0 315.5,88.0 316.3,92.7 316.5,93.9 317.2,99.2 317.5,98.1 318.2,95.1 318.5,94.0 319.4,90.3 319.5,90.3 320.4,89.8 320.5,89.7 321.0,89.2 321.5,89.6 321.7,89.8 322.5,89.8 323.5,89.8 324.5,89.8 325.5,89.8 326.5,89.8 327.5,89.8 328.5,89.8 329.5,89.8 330.5,89.8 331.3,89.8 331.5,88.5 331.8,86.6 332.3,83.8 332.5,83.7 333.3,83.2 333.5,83.3 334.5,83.5 335.1,86.8 335.5,88.6 335.7,89.5 336.5,90.9 336.8,91.5 337.5,89.5 337.6,89.2 338.5,87.1 339.3,89.8 339.5,90.4 340.1,92.5 340.5,91.1 340.9,89.8 341.5,87.7 342.3,92.1 342.5,91.4 343.1,89.5 343.5,88.7 343.9,88.0 344.5,91.5 344.7,92.7 345.5,98.3 345.6,99.0 346.5,95.4 346.6,95.0 347.5,91.5 347.8,90.3 348.5,89.9 348.8,89.8 349.4,89.2 349.5,89.3 350.1,89.8 350.5,89.8 351.5,89.8 352.5,89.8 353.5,89.8 354.5,89.8 355.5,89.8 356.5,89.8 357.5,89.8 358.5,89.8 359.5,89.8 359.7,89.8 360.2,86.8 360.5,85.1 360.7,84.2 361.5,83.7 361.7,83.6 362.5,83.8 362.9,83.9 363.5,87.0 363.5,87.1 364.1,89.5 364.5,90.2 365.2,91.4 365.5,90.5 366.0,89.2 366.5,88.1 366.9,87.3 367.5,89.2 367.7,89.8 368.5,92.3 368.5,92.2 369.3,89.8 369.5,89.0 369.9,87.8 370.5,91.1 370.7,91.9 371.5,89.5 371.5,89.4 372.3,88.1 372.5,89.4 373.1,92.5 373.5,95.3 374.0,98.5 374.5,96.4 375.0,94.7 375.5,92.7 376.2,90.3 376.5,90.1 377.2,89.8 377.5,89.5 377.8,89.2 378.5,89.8 378.5,89.8 379.5,89.8 380.5,89.8 381.5,89.8 382.5,89.8 383.5,89.8 384.5,89.8 385.5,89.8 386.5,89.8 387.5,89.8 388.0,89.8 388.5,86.8 388.5,86.6 389.0,83.9 389.5,83.6 390.0,83.3 390.5,83.4 391.2,83.5 391.5,85.0 391.8,86.9 392.4,89.5 392.5,89.6 393.5,91.4 393.5,91.5 394.3,89.2 394.5,88.8 395.2,87.2 395.5,88.0 396.0,89.8 396.5,91.3 396.8,92.5 397.5,90.2 397.6,89.8 398.2,87.7 398.5,89.1 399.0,92.1 399.5,90.6 399.8,89.5 400.5,88.3 400.6,88.0 401.4,92.6 401.5,93.1 402.3,99.0 402.5,98.3 403.3,94.9 403.5,94.3 404.5,90.5 404.5,90.3 405.5,89.8 405.5,89.8 406.1,89.2 406.5,89.5 406.8,89.8 407.5,89.8 408.5,89.8 409.5,89.8 410.5,89.8 411.5,89.8 412.5,89.8 413.5,89.8 414.5,89.8 415.5,89.8 416.4,89.8 416.5,89.2 416.9,86.4 417.4,83.6 417.5,83.6 418.4,83.0 418.5,83.0 419.5,83.2 419.6,83.3 420.2,86.7 420.5,88.1 420.8,89.4 421.5,90.8 421.9,91.6 422.5,89.8 422.7,89.1 423.5,87.3 423.6,87.0 424.4,89.8 424.5,90.1 425.2,92.6 425.5,91.6 426.0,89.8 426.5,88.0 426.6,87.6 427.4,92.2 427.5,91.8 428.2,89.4 428.5,88.9 429.0,87.9 429.5,90.9 429.8,92.8 430.5,97.8 430.7,99.4 431.5,96.0 431.7,95.2 432.5,92.0 432.9,90.4 433.5,90.0 433.9,89.8 434.5,89.2 434.5,89.1 435.2,89.8 435.5,89.8 436.5,89.8 437.5,89.8 438.5,89.8 439.5,89.8 440.5,89.8 441.5,89.8 442.5,89.8 443.5,89.8 444.5,89.8 444.8,89.8 445.3,86.8 445.5,85.7 445.8,84.3 446.5,84.0 446.8,83.8 447.5,83.9 448.0,84.0 448.5,86.7 448.6,87.1 449.2,89.5 449.5,90.0 450.3,91.3 450.5,90.8 451.1,89.2 451.5,88.4 452.0,87.4 452.5,88.9 452.8,89.8 453.5,92.0 453.6,92.2 454.4,89.8 454.5,89.4 455.0,87.9 455.5,90.5 455.8,91.9 456.5,89.7 456.6,89.5 457.4,88.2 457.5,88.8 458.2,92.4 458.5,94.5 459.1,98.2 459.5,96.7 460.1,94.5 460.5,93.0 461.3,90.3 461.5,90.2 462.3,89.8 462.5,89.6 462.9,89.2 463.5,89.7 463.6,89.8 464.5,89.8 465.5,89.8 466.5,89.8 467.5,89.8 468.5,89.8 469.5,89.8 470.5,89.8 471.5,89.8 472.5,89.8 473.2,89.8 473.5,87.6 473.7,86.7 474.2,84.0 474.5,83.8 475.2,83.5 475.5,83.5 476.4,83.7 476.5,84.5 477.0,86.9 477.5,89.3 477.6,89.5 478.5,91.2 478.7,91.4 479.5,89.2 479.5,89.1 480.4,87.2 480.5,87.7 481.2,89.8 481.5,90.9 482.0,92.4 482.5,90.6 482.8,89.8 483.4,87.8 483.5,88.6 484.2,92.0 484.5,90.9 485.0,89.5 485.5,88.5 485.8,88.1 486.5,92.3 486.6,92.6 487.5,98.7 487.5,98.5 488.5,94.8 488.5,94.6 489.5,90.9 489.7,90.3 490.5,89.8 490.7,89.8 491.3,89.2 491.5,89.4 492.0,89.8 492.5,89.8 493.5,89.8 494.5,89.8 495.5,89.8 496.5,89.8 497.5,89.8 498.5,89.8 499.5,89.8 500.5,89.8 501.5,89.8 501.5,89.8 502.0,86.9 502.5,84.6 502.5,84.5 503.5,84.0 503.5,84.0 504.5,84.2 504.7,84.2 505.3,87.2 505.5,87.9 505.9,89.5 506.5,90.4 507.0,91.3 507.5,90.1 507.8,89.2 508.5,87.9 508.7,87.4 509.5,89.7 509.5,89.8 510.3,92.2 510.5,91.6 511.1,89.8 511.5,88.6 511.7,88.0 512.5,91.7 512.5,91.8 513.3,89.5 513.5,89.2 514.1,88.2 514.5,90.2 514.9,92.3 515.5,95.9 515.8,97.9 516.5,95.5 516.8,94.4 517.5,92.0 518.0,90.3 518.5,90.0 519.0,89.8 519.5,89.3 519.6,89.2 520.3,89.8 520.5,89.8 521.5,89.8 522.5,89.8 523.5,89.8 524.5,89.8 525.5,89.8 526.5,89.8 527.5,89.8 528.5,89.8 529.5,89.8 529.9,89.8 530.4,86.8 530.5,86.3 530.9,84.3 531.5,84.0 531.9,83.8 532.5,83.9 533.1,84.0 533.5,86.1 533.7,87.1 534.3,89.5 534.5,89.8 535.4,91.3 535.5,91.1 536.2,89.2 536.5,88.6 537.1,87.4 537.5,88.6 537.9,89.8 538.5,91.7 538.7,92.3 539.5,89.8 539.5,89.7 540.1,87.9 540.5,89.9 540.9,91.9 541.5,90.1 541.7,89.5 542.5,88.2 542.5,88.2" stroke="#D95319" stroke-width="1.15"/>
</g>
<g clip-path="url(#cb)" fill="none" stroke-linejoin="round">
<polyline points="25.5,215.0 26.4,224.8 26.5,222.5 26.8,222.8 27.0,216.6 27.2,218.9 27.2,216.4 27.5,219.6 27.8,221.1 28.0,226.2 28.0,225.2 28.2,228.1 28.5,223.7 28.8,222.8 28.8,218.9 29.0,220.2 29.2,219.6 29.4,223.7 29.5,221.3 29.8,227.8 30.0,225.7 30.2,227.1 30.2,224.5 30.5,225.3 30.8,222.9 31.0,228.0 31.0,225.4 31.2,228.7 31.5,227.8 31.8,230.7 31.8,228.2 32.0,231.4 32.2,231.6 32.5,235.0 32.6,235.7 32.8,238.4 33.0,239.9 33.2,243.4 33.5,243.4 33.5,244.8 33.8,242.3 34.0,241.8 34.2,241.0 34.5,242.4 34.5,241.5 34.8,241.5 35.0,239.9 35.2,238.8 35.5,236.5 35.7,236.7 35.8,235.9 36.0,236.6 36.2,236.4 36.5,237.2 36.7,236.5 36.8,237.4 37.0,237.1 37.2,238.0 37.3,235.9 37.5,238.3 37.8,236.4 38.0,234.6 38.0,231.0 38.2,232.7 38.5,225.8 38.8,227.6 39.0,225.7 39.2,230.7 39.5,230.1 39.8,234.5 40.0,235.2 40.2,239.5 40.5,238.8 40.8,244.1 41.0,240.3 41.2,242.1 41.5,240.7 41.8,237.3 42.0,232.7 42.2,231.0 42.5,227.1 42.8,229.7 43.0,228.3 43.2,229.7 43.5,230.6 43.8,237.7 44.0,234.7 44.2,240.9 44.5,236.6 44.8,243.4 45.0,241.7 45.2,242.8 45.5,237.5 45.8,237.3 46.0,229.3 46.2,230.9 46.5,226.6 46.8,227.6 47.0,227.6 47.2,226.6 47.5,229.2 47.6,231.4 47.8,231.5 48.0,222.9 48.1,220.6 48.2,219.1 48.5,213.8 48.6,213.4 48.8,211.1 49.0,210.9 49.2,208.2 49.5,209.3 49.6,207.6 49.8,209.3 50.0,210.2 50.2,210.6 50.5,209.5 50.8,210.3 50.8,208.5 51.0,212.7 51.2,216.6 51.4,221.5 51.5,222.0 51.8,225.5 52.0,229.0 52.2,229.3 52.5,223.3 52.8,224.9 53.0,223.9 53.1,227.7 53.2,225.8 53.5,228.8 53.8,224.2 53.9,225.0 54.0,221.3 54.2,221.5 54.5,218.5 54.8,221.6 54.8,221.1 55.0,224.9 55.2,224.5 55.5,226.0 55.6,222.6 55.8,225.4 56.0,222.5 56.2,226.3 56.4,227.0 56.5,229.9 56.8,229.6 57.0,230.3 57.2,226.6 57.2,227.0 57.5,220.4 57.8,220.0 57.8,218.4 58.0,223.5 58.2,225.4 58.5,232.6 58.6,230.9 58.8,232.1 59.0,227.7 59.2,225.9 59.4,222.9 59.5,225.6 59.8,223.4 60.0,228.9 60.2,228.2 60.2,232.6 60.5,232.7 60.8,234.0 61.0,234.2 61.2,237.7 61.5,239.8 61.8,245.1 61.9,245.2 62.0,246.2 62.2,243.7 62.5,242.8 62.8,240.2 62.9,240.1 63.0,238.8 63.2,239.2 63.5,238.0 63.8,237.8 64.0,235.7 64.1,235.4 64.2,233.7 64.5,233.8 64.8,231.8 65.0,234.2 65.1,233.9 65.2,236.2 65.5,236.6 65.7,237.5 65.8,236.5 66.0,234.2 66.2,233.4 66.4,231.9 66.5,233.5 66.8,231.5 67.0,231.0 67.2,228.7 67.5,227.0 67.8,233.3 68.0,232.5 68.2,237.4 68.5,239.3 68.8,241.9 69.0,241.3 69.2,245.0 69.5,238.1 69.8,240.0 70.0,236.9 70.2,235.5 70.5,232.3 70.8,231.8 71.0,229.6 71.2,229.1 71.5,227.6 71.8,232.4 72.0,232.4 72.2,235.3 72.5,234.3 72.8,242.3 73.0,240.6 73.2,238.8 73.5,239.5 73.8,238.8 74.0,234.3 74.2,234.2 74.5,231.1 74.8,232.5 75.0,228.3 75.2,233.7 75.5,226.4 75.8,233.5 76.0,232.3 76.0,237.1 76.2,228.0 76.5,220.2 76.5,218.9 76.8,215.9 77.0,211.6 77.0,212.2 77.2,211.5 77.5,211.9 77.8,209.1 78.0,208.7 78.0,207.7 78.2,208.7 78.5,208.7 78.8,210.7 79.0,210.9 79.2,211.6 79.2,212.0 79.5,216.5 79.8,219.0 79.8,220.2 80.0,221.5 80.2,224.9 80.4,226.0 80.5,229.6 80.8,229.6 81.0,230.1 81.2,225.3 81.5,224.6 81.5,222.5 81.8,222.8 82.0,222.0 82.2,225.7 82.3,223.8 82.5,225.5 82.8,221.3 83.0,222.2 83.2,218.5 83.2,220.7 83.5,218.8 83.8,224.7 84.0,223.8 84.0,226.1 84.2,226.5 84.5,228.8 84.8,224.8 84.8,225.9 85.0,223.1 85.2,225.2 85.5,226.1 85.6,228.0 85.8,225.8 86.0,225.4 86.2,220.8 86.2,223.2 86.5,221.3 86.8,224.2 87.0,226.4 87.0,229.7 87.2,229.2 87.5,230.8 87.8,228.5 87.8,230.3 88.0,225.7 88.2,224.3 88.5,223.9 88.6,226.5 88.8,228.5 89.0,233.0 89.2,235.5 89.4,237.3 89.5,237.3 89.8,239.5 90.0,241.0 90.2,243.5 90.3,243.3 90.5,243.9 90.8,242.5 91.0,243.1 91.2,240.9 91.3,241.5 91.5,238.3 91.8,237.2 92.0,236.0 92.2,235.9 92.5,234.9 92.5,236.7 92.8,234.9 93.0,234.4 93.2,232.1 93.5,233.2 93.5,232.1 93.8,234.8 94.0,235.6 94.1,235.7 94.2,238.5 94.5,239.3 94.8,235.4 94.8,240.8 95.0,232.7 95.2,232.4 95.5,229.5 95.8,230.1 96.0,226.3 96.2,230.7 96.5,232.8 96.8,237.4 97.0,234.7 97.2,243.6 97.5,238.7 97.8,239.5 98.0,236.6 98.2,234.6 98.5,229.8 98.8,229.1 99.0,225.9 99.2,231.0 99.5,230.1 99.8,235.9 100.0,236.7 100.2,240.3 100.5,242.2 100.8,240.6 101.0,236.6 101.2,235.5 101.5,231.4 101.8,233.8 102.0,224.6 102.2,231.0 102.5,227.8 102.8,231.4 103.0,234.8 103.2,238.0 103.5,239.0 103.8,242.7 104.0,241.7 104.2,239.8 104.3,237.6 104.5,233.6 104.8,223.2 104.8,221.7 105.0,217.7 105.2,212.6 105.3,210.5 105.5,210.9 105.8,209.9 106.0,211.5 106.2,209.6 106.3,210.2 106.5,209.8 106.8,209.7 107.0,207.8 107.2,209.2 107.5,209.7 107.5,210.4 107.8,214.1 108.0,220.2 108.1,221.0 108.2,223.0 108.5,223.8 108.7,224.7 108.8,224.0 109.0,226.2 109.2,227.6 109.5,230.5 109.8,229.3 109.8,229.9 110.0,227.2 110.1,227.0 110.2,220.4 110.3,223.2 110.4,218.3 110.5,222.6 110.6,219.1 110.6,222.2 110.8,220.4 110.8,221.7 110.9,220.2 111.0,224.4 111.1,222.0 111.2,226.3 111.3,224.2 111.4,227.1 111.5,223.5 111.5,224.8 111.6,221.8 111.8,223.1 111.8,220.1 111.9,223.8 112.0,221.1 112.1,223.4 112.2,217.7 112.3,220.4 112.3,219.5 112.4,223.0 112.5,223.4 112.6,226.8 112.8,228.0 112.8,230.2 112.9,226.0 113.0,229.8 113.1,229.2 113.1,235.1 113.2,232.0 113.3,234.2 113.4,229.9 113.5,225.9 113.6,222.7 113.8,223.1 113.8,220.1 113.9,227.7 113.9,226.3 114.0,228.3 114.1,227.1 114.2,222.6 114.3,218.2 114.4,221.1 114.5,230.3 114.5,230.3 114.6,230.0 114.8,235.6 114.8,231.9 114.9,226.5 115.0,223.8 115.1,226.7 115.2,235.4 115.3,235.8 115.3,233.8 115.4,235.9 115.5,220.3 115.6,224.0 115.8,219.5 115.8,222.0 115.9,234.7 116.0,235.5 116.1,223.8 116.1,223.5 116.2,224.6 116.3,225.7 116.4,237.1 116.5,239.4 116.6,238.6 116.8,239.9 116.8,221.4 116.9,224.1 116.9,218.9 117.0,222.8 117.1,237.0 117.2,242.1 117.3,240.1 117.4,228.7 117.5,228.7 117.6,226.2 117.7,228.5 117.8,251.3 117.8,249.9 117.9,250.0 118.0,262.8 118.1,233.4 118.2,237.5 118.3,235.3 118.4,257.5 118.5,256.3 118.6,256.8 118.6,258.5 118.8,238.7 118.8,239.2 118.9,236.4 119.0,237.9 119.1,252.6 119.2,255.8 119.3,253.5 119.4,238.2 119.5,236.8 119.6,233.7 119.6,233.9 119.8,253.6 119.8,254.8 119.9,252.6 120.0,251.3 120.1,234.3 120.2,232.2 120.3,230.9 120.4,248.4 120.5,248.3 120.6,246.2 120.8,229.8 120.8,228.5 120.8,227.6 120.9,228.4 121.0,228.6 121.1,245.6 121.2,248.6 121.3,247.6 121.4,229.7 121.5,230.9 121.6,228.1 121.8,243.4 121.8,245.7 121.8,242.9 121.9,243.0 122.0,240.6 122.1,229.6 122.2,226.9 122.3,228.5 122.4,237.5 122.4,242.9 122.5,242.0 122.6,243.3 122.8,229.1 122.8,230.2 122.9,229.3 123.0,236.0 123.1,244.0 123.1,247.5 123.2,246.5 123.3,248.5 123.4,241.6 123.5,237.5 123.6,234.8 123.8,249.1 123.8,245.7 123.9,244.8 124.0,242.5 124.1,235.3 124.2,234.9 124.3,234.6 124.4,235.8 124.5,239.8 124.6,235.1 124.8,225.9 124.8,223.9 124.9,227.8 125.0,230.9 125.1,232.2 125.2,229.6 125.3,232.8 125.4,226.6 125.5,225.3 125.6,228.3 125.8,236.3 125.8,233.3 125.9,237.8 126.0,234.6 126.1,237.6 126.2,235.4 126.3,238.0 126.4,243.5 126.5,243.1 126.6,241.0 126.8,244.2 126.8,240.4 126.9,241.8 127.0,244.0 127.1,242.7 127.2,236.6 127.3,239.2 127.4,235.4 127.5,237.3 127.6,234.4 127.8,237.2 127.8,231.0 127.9,231.3 128.0,227.4 128.1,229.7 128.2,225.3 128.3,228.5 128.4,225.7 128.5,226.5 128.6,227.1 128.8,228.1 128.8,230.2 128.9,232.3 129.0,227.6 129.1,230.0 129.2,232.5 129.3,235.6 129.4,237.9 129.5,238.4 129.6,236.0 129.8,244.9 129.8,238.0 129.9,242.3 130.0,240.5 130.2,245.9 130.5,241.1 130.8,243.1 131.0,233.4 131.2,233.1 131.5,229.9 131.8,226.8 132.0,224.9 132.2,231.0 132.5,227.4 132.7,236.2 132.8,232.7 133.0,229.2 133.2,221.3 133.2,221.6 133.5,216.2 133.7,213.3 133.8,211.9 134.0,210.7 134.2,209.1 134.5,209.7 134.7,208.3 134.8,209.4 135.0,209.9 135.2,211.5 135.5,209.9 135.8,210.0 135.9,209.2 136.0,211.3 136.2,215.7 136.5,221.9 136.5,220.9 136.8,224.3 137.0,227.4 137.1,229.8 137.2,225.3 137.5,226.5 137.8,221.8 138.0,224.6 138.2,224.8 138.2,227.4 138.5,225.2 138.8,224.7 139.0,220.8 139.0,222.3 139.2,217.8 139.5,220.2 139.8,219.5 139.9,223.2 140.0,222.4 140.2,227.0 140.5,223.0 140.7,223.2 140.8,220.9 141.0,221.6 141.2,220.3 141.5,226.6 141.5,225.1 141.8,229.3 142.0,226.9 142.2,226.3 142.3,224.6 142.5,223.4 142.8,218.9 142.9,219.4 143.0,219.5 143.2,225.2 143.5,227.3 143.7,232.6 143.8,230.1 144.0,228.6 144.2,224.2 144.5,224.1 144.5,222.8 144.8,225.4 145.0,227.0 145.2,232.2 145.3,229.8 145.5,234.7 145.8,232.0 146.0,234.5 146.1,234.6 146.2,236.7 146.5,238.7 146.8,242.9 147.0,244.3 147.0,246.0 147.2,243.7 147.5,242.9 147.8,240.7 148.0,239.7 148.0,239.5 148.2,239.9 148.5,239.0 148.8,239.3 149.0,236.1 149.2,236.1 149.2,235.0 149.5,235.0 149.8,233.5 150.0,234.6 150.2,233.4 150.2,234.4 150.5,232.3 150.8,232.1 150.8,230.2 151.0,228.9 151.2,225.2 151.5,230.8 151.5,227.8 151.8,233.9 152.0,232.0 152.2,240.5 152.5,238.8 152.8,243.2 153.0,243.3 153.2,243.2 153.5,240.5 153.8,240.2 154.0,234.7 154.2,233.8 154.5,229.3 154.8,228.1 155.0,226.5 155.2,227.2 155.5,229.2 155.8,235.3 156.0,234.1 156.2,240.0 156.5,238.9 156.8,242.4 157.0,244.7 157.2,245.1 157.5,244.1 157.8,241.7 158.0,237.1 158.2,237.0 158.5,233.1 158.8,229.6 159.0,226.1 159.2,228.8 159.5,228.5 159.8,228.7 160.0,232.4 160.2,237.5 160.5,235.6 160.8,240.9 161.0,242.5 161.1,243.2 161.2,236.3 161.5,222.7 161.6,220.3 161.8,217.9 162.0,213.0 162.1,213.3 162.2,211.9 162.5,212.0 162.8,209.9 163.0,208.2 163.1,207.1 163.2,208.0 163.5,207.9 163.8,210.8 164.0,210.1 164.2,211.7 164.3,210.2 164.5,214.3 164.8,217.6 164.9,220.5 165.0,221.0 165.2,224.7 165.5,227.1 165.5,228.9 165.8,228.8 166.0,229.0 166.2,221.9 166.5,223.3 166.6,219.4 166.8,221.3 167.0,219.3 167.2,223.3 167.4,220.8 167.5,224.4 167.8,220.1 168.0,221.7 168.2,218.1 168.3,219.3 168.5,218.5 168.8,221.9 169.0,222.7 169.1,225.0 169.2,221.7 169.5,224.3 169.8,220.6 169.9,222.6 170.0,219.6 170.2,223.4 170.5,223.3 170.7,227.1 170.8,225.0 171.0,225.4 171.2,220.6 171.3,221.4 171.5,218.7 171.8,222.9 172.0,222.5 172.1,227.6 172.2,227.5 172.5,229.9 172.8,226.6 172.9,229.0 173.0,225.3 173.2,225.9 173.5,224.5 173.7,228.0 173.8,228.4 174.0,235.0 174.2,234.4 174.5,237.2 174.5,236.9 174.8,239.3 175.0,239.4 175.2,243.1 175.4,243.0 175.5,243.8 175.8,243.5 176.0,243.9 176.2,241.7 176.4,242.0 176.5,240.0 176.8,239.4 177.0,237.2 177.2,238.6 177.5,236.9 177.6,238.5 177.8,237.2 178.0,237.0 178.2,233.9 178.5,234.0 178.6,233.2 178.8,233.1 179.0,229.8 179.2,230.7 179.2,228.7 179.5,229.7 179.8,230.1 179.9,233.9 180.0,232.4 180.2,240.2 180.5,238.5 180.8,240.4 181.0,239.9 181.2,242.8 181.5,240.2 181.8,242.6 182.0,236.4 182.2,235.5 182.5,227.0 182.8,226.5 183.0,227.1 183.2,229.1 183.5,229.2 183.8,233.5 184.0,235.7 184.2,239.9 184.5,240.4 184.8,243.9 185.0,242.7 185.2,242.5 185.5,238.9 185.8,235.3 186.0,232.5 186.2,230.4 186.5,228.5 186.8,229.9 187.0,230.2 187.2,234.6 187.5,229.8 187.8,239.0 188.0,237.9 188.2,239.2 188.5,240.3 188.8,240.8 189.0,237.0 189.2,236.0 189.4,230.7 189.5,234.2 189.8,226.3 189.9,221.3 190.0,219.1 190.2,214.2 190.4,209.6 190.5,209.9 190.8,209.0 191.0,210.3 191.2,209.1 191.4,209.6 191.5,207.9 191.8,208.4 192.0,206.8 192.2,208.8 192.5,208.8 192.6,209.9 192.8,211.8 193.0,217.4 193.2,220.0 193.5,223.1 193.8,222.1 193.8,225.5 194.0,223.4 194.2,229.7 194.5,228.8 194.8,230.6 194.9,227.0 195.0,229.6 195.2,223.7 195.5,222.8 195.8,219.3 196.0,224.2 196.2,223.9 196.5,224.4 196.6,221.7 196.8,223.2 197.0,220.0 197.2,221.4 197.4,221.8 197.5,223.2 197.8,225.9 198.0,230.2 198.2,230.5 198.5,230.0 198.8,224.9 199.0,223.5 199.0,222.3 199.2,225.6 199.5,222.9 199.6,225.6 199.8,225.4 200.0,227.1 200.2,225.1 200.4,228.9 200.5,226.9 200.8,227.9 201.0,227.5 201.2,229.8 201.5,227.7 201.8,229.3 202.0,224.0 202.0,227.3 202.2,226.6 202.5,232.0 202.8,234.4 202.8,236.6 203.0,237.8 203.2,241.9 203.5,243.0 203.8,244.9 204.0,242.4 204.2,243.4 204.5,242.0 204.8,242.1 205.0,239.5 205.2,238.7 205.5,235.3 205.8,235.1 205.9,233.2 206.0,234.5 206.2,233.7 206.5,235.4 206.8,233.1 206.9,233.2 207.0,231.7 207.2,231.5 207.5,230.2 207.5,231.4 207.8,232.3 208.0,237.0 208.2,234.4 208.5,240.5 208.8,239.1 209.0,241.5 209.2,234.6 209.5,236.7 209.8,233.4 210.0,235.0 210.2,228.7 210.5,230.1 210.8,223.7 211.0,231.3 211.2,233.1 211.5,235.3 211.8,239.7 212.0,243.9 212.2,241.0 212.5,244.0 212.8,236.6 213.0,234.2 213.2,230.4 213.3,232.8 213.5,226.7 213.5,226.2 213.6,224.9 213.8,227.8 213.8,225.7 214.0,229.1 214.0,230.4 214.1,229.2 214.2,226.1 214.3,230.4 214.5,234.2 214.5,235.8 214.6,236.5 214.8,239.1 214.8,239.2 215.0,243.3 215.0,242.0 215.1,246.4 215.2,246.6 215.3,255.8 215.5,247.1 215.5,246.1 215.6,244.6 215.8,251.2 215.8,242.0 216.0,242.9 216.0,238.0 216.1,234.7 216.2,234.8 216.3,232.5 216.5,228.1 216.5,226.9 216.6,222.7 216.8,222.3 216.8,217.7 217.0,218.9 217.0,218.6 217.1,223.4 217.2,219.8 217.3,222.8 217.5,224.2 217.5,226.0 217.6,228.0 217.8,243.4 217.8,245.8 217.8,242.9 218.0,239.8 218.0,237.3 218.1,226.6 218.2,221.1 218.3,218.6 218.3,226.9 218.5,224.3 218.5,223.9 218.6,220.8 218.8,211.7 218.8,210.2 218.8,211.1 219.0,207.4 219.0,218.7 219.1,215.4 219.2,216.0 219.3,210.4 219.5,205.6 219.5,204.9 219.6,218.5 219.8,217.8 219.8,217.2 219.8,216.7 220.0,207.8 220.0,205.0 220.1,206.0 220.2,205.6 220.3,221.1 220.5,220.1 220.5,218.3 220.6,200.4 220.8,207.1 220.8,205.7 221.0,217.9 221.0,216.3 221.0,217.6 221.1,221.4 221.2,224.2 221.3,209.8 221.5,213.5 221.5,213.6 221.6,232.9 221.6,229.3 221.8,233.9 221.8,232.1 222.0,221.1 222.0,221.1 222.1,224.0 222.2,220.5 222.2,222.2 222.3,233.8 222.5,236.5 222.5,234.1 222.6,222.4 222.8,218.7 222.8,221.0 223.0,233.4 223.0,237.0 223.1,234.9 223.2,238.6 223.3,222.5 223.3,223.5 223.5,220.4 223.5,223.5 223.6,235.0 223.8,236.2 223.8,234.6 224.0,218.3 224.0,215.9 224.1,217.3 224.1,214.1 224.2,216.9 224.3,226.7 224.5,230.4 224.5,226.0 224.6,217.6 224.8,216.4 224.8,219.9 225.0,231.7 225.0,232.9 225.0,228.6 225.1,233.0 225.2,219.9 225.3,223.0 225.5,220.5 225.5,221.2 225.6,228.2 225.8,229.8 225.8,226.5 225.8,230.2 226.0,216.0 226.0,218.4 226.1,218.4 226.2,227.6 226.3,227.2 226.5,232.2 226.5,230.3 226.6,226.8 226.6,225.2 226.8,228.8 226.8,226.7 227.0,235.6 227.0,233.1 227.1,233.1 227.2,224.7 227.3,226.4 227.4,221.4 227.5,223.6 227.5,220.1 227.6,225.5 227.8,223.0 227.8,222.9 228.0,216.1 228.0,219.3 228.0,217.0 228.1,221.4 228.2,226.2 228.3,228.5 228.5,229.0 228.5,230.5 228.6,226.8 228.8,231.4 228.8,229.9 228.8,230.7 229.0,231.0 229.0,233.1 229.1,227.5 229.2,226.9 229.3,223.5 229.5,224.4 229.5,222.1 229.6,226.6 229.6,223.1 229.8,226.5 229.8,225.9 230.0,227.9 230.0,225.8 230.1,229.4 230.2,229.0 230.3,231.4 230.4,229.6 230.5,232.3 230.5,231.3 230.6,231.7 230.8,230.6 230.8,232.1 231.0,232.9 231.0,234.2 231.1,234.0 231.2,234.8 231.2,234.5 231.3,235.6 231.5,237.3 231.5,238.3 231.6,240.2 231.8,242.2 231.8,242.4 232.0,244.5 232.0,244.4 232.1,246.1 232.1,244.6 232.2,245.5 232.3,243.8 232.5,244.0 232.5,242.3 232.6,242.7 232.8,240.6 232.8,241.4 233.0,239.6 233.0,240.4 233.1,239.1 233.1,240.8 233.2,239.2 233.5,240.3 233.8,238.1 234.0,237.5 234.2,235.2 234.3,235.2 234.5,233.7 234.8,234.0 235.0,233.9 235.2,235.1 235.3,234.2 235.5,236.5 235.8,232.8 235.9,234.1 236.0,231.4 236.2,233.0 236.5,228.7 236.6,232.0 236.8,229.0 237.0,234.1 237.2,235.2 237.5,239.9 237.8,237.5 238.0,240.1 238.2,238.1 238.5,238.2 238.8,236.8 239.0,235.8 239.2,232.4 239.5,232.5 239.8,229.6 240.0,231.0 240.2,226.2 240.5,235.5 240.8,231.5 241.0,237.0 241.2,238.2 241.5,242.8 241.8,240.7 242.0,241.6 242.2,240.2 242.5,238.0 242.8,234.4 243.0,234.8 243.2,228.8 243.5,233.0 243.8,226.9 244.0,232.6 244.2,230.9 244.5,235.7 244.8,235.4 245.0,241.1 245.2,240.9 245.5,242.2 245.8,238.9 246.0,237.8 246.2,233.2 246.2,236.7 246.5,225.5 246.7,220.4 246.8,219.3 247.0,216.5 247.2,212.0 247.2,213.1 247.5,211.3 247.8,211.2 248.0,208.1 248.2,208.1 248.2,207.4 248.5,209.6 248.8,209.6 249.0,211.4 249.2,210.6 249.4,210.6 249.5,211.4 249.8,216.5 250.0,219.4 250.0,220.5 250.2,222.3 250.5,228.3 250.6,229.1 250.8,230.7 251.0,228.3 251.2,227.3 251.5,223.3 251.7,225.5 251.8,223.6 252.0,226.3 252.2,224.3 252.5,225.8 252.5,223.8 252.8,223.3 253.0,219.5 253.2,219.3 253.4,218.8 253.5,220.1 253.8,222.2 254.0,227.2 254.2,224.5 254.2,227.1 254.5,224.5 254.8,225.5 255.0,223.5 255.0,225.2 255.2,225.1 255.5,228.1 255.8,226.2 255.8,229.6 256.0,225.3 256.2,224.7 256.4,219.1 256.5,222.6 256.8,221.6 257.0,226.9 257.2,227.7 257.2,230.5 257.5,230.4 257.8,231.6 258.0,226.0 258.0,226.8 258.2,223.2 258.5,225.0 258.8,226.5 258.8,228.1 259.0,230.7 259.2,234.5 259.5,235.2 259.6,236.1 259.8,236.9 260.0,239.2 260.2,241.4 260.5,245.1 260.5,243.6 260.8,244.6 261.0,242.7 261.2,242.7 261.5,239.3 261.5,240.9 261.8,237.3 262.0,237.4 262.2,236.3 262.5,237.5 262.7,235.5 262.8,236.5 263.0,234.1 263.2,233.5 263.5,231.8 263.7,232.6 263.8,232.2 264.0,233.4 264.2,233.0 264.3,235.7 264.5,236.0 264.8,240.3 265.0,239.1 265.0,241.1 265.2,242.9 265.5,243.8 265.8,238.0 266.0,241.4 266.2,234.3 266.5,235.9 266.8,231.3 267.0,229.1 267.2,226.4 267.5,227.2 267.8,224.5 268.0,232.4 268.2,230.8 268.5,236.5 268.8,239.7 269.0,244.1 269.2,239.6 269.5,243.7 269.8,240.8 270.0,241.2 270.2,236.8 270.5,236.5 270.8,229.0 271.0,229.1 271.2,227.0 271.5,230.7 271.8,227.1 272.0,233.4 272.2,231.5 272.5,233.8 272.8,232.8 273.0,239.8 273.2,241.6 273.5,241.5 273.8,243.7 274.0,241.6 274.2,234.2 274.5,234.8 274.6,236.5 274.8,232.6 275.0,221.7 275.1,220.6 275.2,215.6 275.5,212.2 275.6,210.0 275.8,211.1 276.0,210.2 276.2,210.9 276.5,208.6 276.6,209.7 276.8,208.0 277.0,208.8 277.2,208.3 277.5,210.0 277.8,210.3 277.8,210.9 278.0,214.8 278.2,219.2 278.4,220.3 278.5,221.6 278.8,222.8 279.0,225.2 279.0,224.2 279.2,228.0 279.5,228.4 279.8,230.8 280.0,227.7 280.1,229.2 280.2,223.6 280.5,221.3 280.8,220.1 280.9,223.0 281.0,220.9 281.2,226.6 281.5,223.2 281.8,222.5 281.8,221.6 282.0,221.1 282.2,218.2 282.5,223.8 282.6,221.3 282.8,226.0 283.0,228.1 283.2,230.6 283.4,228.4 283.5,228.7 283.8,223.2 284.0,224.3 284.2,223.5 284.2,225.0 284.5,225.1 284.8,224.8 284.8,223.7 285.0,227.3 285.2,224.4 285.5,226.8 285.6,225.8 285.8,227.4 286.0,228.0 286.2,230.5 286.4,228.5 286.5,230.3 286.8,226.5 287.0,227.2 287.2,224.6 287.2,225.6 287.5,228.3 287.8,234.2 288.0,235.9 288.0,237.9 288.2,239.8 288.5,242.7 288.8,243.4 288.9,244.6 289.0,243.1 289.2,243.0 289.5,241.8 289.8,242.4 289.9,241.7 290.0,240.9 290.2,238.2 290.5,236.9 290.8,234.4 291.0,234.8 291.1,234.4 291.2,235.1 291.5,234.2 291.8,235.0 292.0,232.6 292.1,234.3 292.2,232.9 292.5,236.9 292.7,236.8 292.8,239.7 293.0,240.7 293.2,242.5 293.4,238.9 293.5,239.2 293.8,234.8 294.0,233.0 294.2,228.0 294.5,229.5 294.8,226.6 295.0,228.1 295.2,229.1 295.5,234.6 295.8,237.3 296.0,241.3 296.2,240.5 296.5,244.3 296.8,241.1 297.0,238.8 297.2,233.2 297.5,235.1 297.8,227.6 298.0,227.9 298.2,227.1 298.5,227.7 298.8,229.1 299.0,235.6 299.2,237.7 299.5,242.3 299.8,243.5 300.0,243.2 300.2,241.6 300.5,240.1 300.8,235.4 301.0,230.2 301.2,227.8 301.5,227.8 301.8,223.1 302.0,229.9 302.2,231.9 302.5,237.3 302.8,236.2 302.9,242.6 303.0,239.1 303.2,230.1 303.4,222.1 303.5,221.3 303.8,215.6 303.9,212.1 304.0,211.0 304.2,210.4 304.5,208.9 304.8,209.4 304.9,208.6 305.0,210.6 305.2,209.7 305.5,210.1 305.8,208.4 306.0,209.6 306.1,208.9 306.2,212.2 306.5,216.5 306.7,222.4 306.8,221.8 307.0,224.6 307.2,225.3 307.3,227.2 307.5,223.4 307.8,224.4 308.0,222.4 308.2,227.0 308.4,225.5 308.5,227.0 308.8,223.4 309.0,221.2 309.2,216.6 309.2,219.3 309.5,215.9 309.8,221.9 310.0,221.3 310.1,226.5 310.2,222.8 310.5,225.3 310.8,219.7 310.9,220.0 311.0,216.9 311.2,221.4 311.5,222.7 311.7,227.7 311.8,225.6 312.0,227.9 312.2,224.6 312.5,222.7 312.5,220.7 312.8,220.1 313.0,219.1 313.1,222.3 313.2,221.2 313.5,226.8 313.8,227.6 313.9,228.3 314.0,225.5 314.2,226.4 314.5,223.5 314.7,225.9 314.8,224.4 315.0,227.9 315.2,228.6 315.5,232.9 315.5,229.0 315.8,233.5 316.0,232.3 316.2,234.6 316.3,234.4 316.5,238.3 316.6,239.1 316.8,241.0 316.8,240.4 316.9,243.3 317.0,244.1 317.1,245.4 317.2,244.7 317.2,246.1 317.3,245.2 317.4,244.2 317.5,242.5 317.6,243.0 317.8,242.3 317.8,243.4 317.9,241.5 318.0,241.3 318.1,239.5 318.2,241.1 318.2,239.5 318.3,240.6 318.4,241.3 318.5,242.6 318.6,241.5 318.8,240.2 318.8,239.0 318.9,239.1 319.0,240.1 319.1,239.8 319.2,238.2 319.3,238.8 319.4,234.8 319.4,235.4 319.5,234.3 319.6,235.4 319.8,237.1 319.8,238.7 319.9,237.9 320.0,234.5 320.1,233.7 320.2,234.3 320.3,233.5 320.4,238.5 320.4,237.5 320.5,237.0 320.6,235.7 320.8,226.4 320.8,226.7 320.9,227.6 321.0,234.5 321.0,235.7 321.1,234.3 321.2,236.2 321.3,237.5 321.4,234.4 321.5,234.1 321.6,240.2 321.7,251.9 321.8,251.2 321.8,247.5 321.9,249.6 322.0,243.8 322.1,245.4 322.2,245.4 322.3,239.8 322.4,252.4 322.5,250.3 322.6,242.6 322.8,238.5 322.8,233.3 322.9,243.1 323.0,240.4 323.1,240.2 323.2,237.5 323.3,227.8 323.4,223.5 323.5,227.9 323.6,233.3 323.8,238.1 323.8,236.4 323.9,225.8 324.0,222.2 324.1,229.1 324.2,223.7 324.3,241.4 324.4,239.0 324.5,210.2 324.6,223.6 324.8,232.1 324.8,233.1 324.9,249.8 325.0,246.9 325.1,252.7 325.2,236.4 325.3,234.3 325.4,235.0 325.5,234.3 325.6,253.9 325.8,249.3 325.8,249.4 325.9,234.7 326.0,234.3 326.1,232.7 326.2,246.5 326.3,249.9 326.4,242.9 326.5,245.3 326.6,229.0 326.8,228.3 326.8,226.0 326.9,245.0 327.0,236.8 327.1,242.7 327.2,226.2 327.3,230.9 327.4,226.7 327.5,230.0 327.6,232.8 327.8,239.0 327.8,235.5 327.9,226.3 328.0,227.9 328.1,231.0 328.2,238.1 328.3,243.0 328.4,242.5 328.5,245.2 328.6,235.1 328.8,236.3 328.8,233.9 328.9,245.2 329.0,244.7 329.1,248.0 329.2,236.0 329.3,238.2 329.4,235.4 329.5,239.4 329.6,243.3 329.8,245.8 329.8,242.8 329.9,234.1 330.0,234.7 330.1,232.6 330.2,237.7 330.3,239.7 330.4,233.2 330.5,235.8 330.6,228.5 330.8,229.5 330.8,228.3 330.9,229.3 331.0,235.7 331.1,234.2 331.2,229.9 331.3,228.6 331.3,229.0 331.4,232.4 331.5,226.8 331.6,230.6 331.8,224.0 331.8,224.6 331.8,222.9 331.9,218.9 332.0,216.7 332.1,215.5 332.2,214.7 332.3,215.1 332.3,213.9 332.4,214.6 332.5,213.6 332.6,211.5 332.8,209.1 332.8,210.6 332.9,209.9 333.0,210.5 333.1,209.1 333.2,207.7 333.3,206.8 333.3,208.3 333.4,207.0 333.5,209.5 333.6,209.4 333.8,210.7 333.8,210.6 333.9,210.1 334.0,209.6 334.1,210.8 334.2,211.0 334.3,211.7 334.4,209.8 334.5,210.3 334.6,210.7 334.8,214.0 334.8,212.9 334.9,217.7 335.0,217.9 335.1,220.9 335.1,219.5 335.2,222.6 335.3,221.3 335.4,224.2 335.5,224.8 335.6,228.8 335.7,228.6 335.8,231.7 335.8,228.2 335.9,230.8 336.0,227.5 336.1,226.9 336.2,224.4 336.3,225.3 336.4,222.2 336.5,223.7 336.8,221.4 336.8,223.3 337.0,220.8 337.2,224.6 337.5,222.1 337.6,222.9 337.8,221.2 338.0,221.0 338.2,217.5 338.5,221.1 338.8,221.4 339.0,226.0 339.2,222.4 339.3,225.5 339.5,220.6 339.8,222.8 340.0,220.1 340.1,222.6 340.2,221.3 340.5,227.2 340.8,227.1 340.9,227.3 341.0,224.9 341.2,223.8 341.5,217.7 341.8,221.2 342.0,221.6 342.2,229.7 342.3,227.8 342.5,231.7 342.8,227.4 343.0,227.0 343.1,223.1 343.2,225.0 343.5,222.5 343.8,227.3 343.9,229.2 344.0,232.6 344.2,233.9 344.5,235.7 344.7,235.3 344.8,236.4 345.0,238.0 345.2,241.0 345.5,243.2 345.6,244.8 345.8,244.4 346.0,244.1 346.2,242.1 346.5,241.5 346.6,239.7 346.8,240.2 347.0,238.0 347.2,238.6 347.5,237.9 347.8,238.2 347.8,237.3 348.0,237.1 348.2,234.0 348.5,234.1 348.8,233.0 348.8,234.8 349.0,234.7 349.2,238.7 349.4,237.6 349.5,239.2 349.8,237.0 350.0,241.4 350.1,242.0 350.2,238.0 350.5,234.7 350.8,234.9 351.0,232.5 351.2,232.8 351.5,228.7 351.8,231.6 352.0,227.0 352.2,232.2 352.5,233.1 352.8,240.4 353.0,240.4 353.2,242.3 353.5,239.3 353.8,242.1 354.0,237.8 354.2,237.2 354.5,233.9 354.8,230.8 355.0,228.8 355.2,231.7 355.5,228.4 355.8,229.8 356.0,231.4 356.2,234.4 356.5,236.2 356.8,240.0 357.0,239.7 357.2,243.7 357.5,240.3 357.8,239.8 358.0,235.8 358.2,235.5 358.5,230.0 358.8,231.8 359.0,228.3 359.2,228.2 359.5,231.4 359.7,232.4 359.8,231.9 360.0,226.5 360.2,219.5 360.2,219.1 360.5,213.8 360.7,211.9 360.8,211.2 361.0,212.0 361.2,211.4 361.5,210.9 361.7,209.2 361.8,210.0 362.0,207.9 362.2,209.6 362.5,209.3 362.8,211.3 362.9,211.4 363.0,214.4 363.2,217.3 363.5,221.1 363.5,220.1 363.8,223.2 364.0,223.4 364.1,227.4 364.2,225.7 364.5,230.8 364.8,229.3 365.0,228.6 365.2,225.0 365.2,225.7 365.5,220.2 365.8,222.4 366.0,221.0 366.0,224.7 366.2,224.2 366.5,226.0 366.8,221.9 366.9,222.7 367.0,218.6 367.2,221.7 367.5,221.5 367.7,225.6 367.8,224.9 368.0,228.3 368.2,228.7 368.5,229.4 368.5,226.6 368.8,227.1 369.0,223.9 369.2,226.4 369.3,224.0 369.5,226.5 369.8,225.5 369.9,225.2 370.0,223.5 370.2,225.5 370.5,224.6 370.7,228.6 370.8,225.5 371.0,229.1 371.2,228.7 371.5,230.8 371.5,229.4 371.8,229.5 372.0,224.7 372.2,226.6 372.3,224.4 372.5,228.5 372.8,232.3 373.0,236.5 373.1,236.5 373.2,238.9 373.5,240.0 373.8,242.1 374.0,243.1 374.0,243.2 374.2,242.5 374.5,243.2 374.8,241.5 375.0,241.7 375.0,240.6 375.2,239.3 375.5,236.3 375.8,235.5 376.0,234.7 376.2,235.4 376.2,234.6 376.5,235.6 376.8,233.9 377.0,233.4 377.2,233.0 377.2,233.9 377.5,234.0 377.8,236.6 377.8,235.9 378.0,238.1 378.2,235.2 378.5,237.4 378.5,233.6 378.8,233.2 379.0,233.6 379.2,231.9 379.5,230.1 379.8,231.2 380.0,232.7 380.2,235.2 380.5,232.0 380.8,236.7 381.0,237.2 381.2,241.1 381.5,240.0 381.8,243.1 382.0,240.3 382.2,242.6 382.5,233.9 382.8,234.7 383.0,232.3 383.2,231.8 383.5,228.0 383.8,228.6 384.0,230.2 384.2,232.0 384.5,229.9 384.8,237.6 385.0,234.2 385.2,244.5 385.5,236.7 385.8,242.7 386.0,242.3 386.2,238.1 386.5,233.0 386.8,234.2 387.0,228.7 387.2,231.4 387.5,228.5 387.8,231.0 388.0,228.5 388.0,231.8 388.2,229.4 388.5,223.9 388.5,222.1 388.8,218.5 389.0,211.9 389.0,211.2 389.2,209.7 389.5,210.4 389.8,209.4 390.0,210.6 390.0,209.6 390.2,210.7 390.5,209.1 390.8,209.6 391.0,208.1 391.2,210.0 391.2,209.4 391.5,215.1 391.8,220.1 391.8,222.7 392.0,222.7 392.2,225.4 392.4,223.9 392.5,226.4 392.8,222.7 393.0,226.8 393.2,226.0 393.5,230.6 393.5,227.8 393.8,227.0 394.0,220.6 394.2,220.8 394.3,217.9 394.5,220.4 394.8,219.5 395.0,224.9 395.2,222.7 395.2,225.7 395.5,222.0 395.8,222.2 396.0,218.4 396.0,220.7 396.2,218.5 396.5,224.6 396.8,227.6 396.8,230.4 397.0,229.2 397.2,228.9 397.5,223.4 397.6,223.5 397.8,220.7 398.0,221.2 398.2,221.7 398.2,222.6 398.5,226.1 398.8,230.0 399.0,227.3 399.0,229.9 399.2,225.2 399.5,226.5 399.8,223.3 399.8,227.9 400.0,225.5 400.2,229.5 400.5,228.6 400.6,231.0 400.8,227.9 401.0,230.9 401.2,232.8 401.4,236.1 401.5,236.1 401.8,239.7 402.0,242.2 402.2,245.4 402.3,244.3 402.5,243.9 402.8,241.2 403.0,241.8 403.2,240.3 403.3,241.7 403.5,240.3 403.8,240.2 404.0,237.6 404.2,236.5 404.5,234.5 404.5,234.8 404.8,233.4 405.0,234.9 405.2,234.9 405.5,235.4 405.5,233.4 405.8,233.3 406.0,230.4 406.1,230.9 406.2,230.2 406.5,231.2 406.8,231.2 406.8,234.0 407.0,234.5 407.2,237.7 407.5,241.3 407.8,241.6 408.0,240.5 408.2,238.1 408.5,236.3 408.8,234.9 409.0,229.0 409.2,232.4 409.5,228.6 409.8,231.1 410.0,230.6 410.2,237.2 410.5,235.5 410.8,240.1 411.0,239.6 411.2,242.6 411.5,241.3 411.8,236.7 412.0,234.1 412.2,231.1 412.5,231.7 412.8,233.4 413.0,227.1 413.2,234.1 413.5,231.3 413.8,236.9 414.0,237.1 414.2,239.0 414.5,238.2 414.8,239.5 415.0,237.9 415.2,242.0 415.5,233.0 415.8,236.9 416.0,228.6 416.2,232.6 416.4,229.2 416.5,229.0 416.8,224.5 416.9,221.7 417.0,219.4 417.2,215.4 417.4,212.3 417.5,212.4 417.8,209.7 418.0,209.5 418.2,207.3 418.4,207.7 418.5,207.4 418.8,210.4 419.0,210.1 419.2,211.2 419.5,209.5 419.6,209.2 419.7,209.2 419.8,211.2 419.8,212.0 420.0,217.0 420.2,219.4 420.2,221.2 420.2,220.1 420.3,221.8 420.5,223.1 420.7,229.3 420.8,228.0 420.8,230.9 420.8,230.2 421.0,230.2 421.2,225.6 421.2,228.8 421.3,225.3 421.5,227.2 421.7,221.3 421.8,224.6 421.8,222.1 421.9,228.7 422.0,226.5 422.2,230.5 422.2,225.1 422.3,226.5 422.5,223.2 422.7,227.0 422.7,225.8 422.8,227.3 422.8,224.8 423.0,221.1 423.2,215.1 423.2,222.7 423.3,221.7 423.5,224.6 423.6,216.5 423.7,220.0 423.8,219.4 423.8,222.9 424.0,229.0 424.2,232.0 424.2,223.6 424.3,224.3 424.4,220.6 424.5,223.3 424.7,227.1 424.8,229.2 424.8,228.1 425.0,221.5 425.2,221.6 425.2,233.4 425.2,230.0 425.3,233.5 425.5,229.5 425.7,228.1 425.8,224.6 425.8,236.4 426.0,203.0 426.0,238.0 426.2,219.9 426.2,219.8 426.3,216.8 426.5,230.6 426.6,226.1 426.7,228.0 426.8,226.7 426.8,217.7 427.0,219.9 427.2,238.3 427.2,236.8 427.3,238.9 427.4,241.0 427.5,228.5 427.7,225.2 427.8,228.7 427.8,236.4 428.0,236.1 428.2,219.1 428.2,221.2 428.2,216.8 428.3,219.3 428.5,231.9 428.7,235.4 428.8,234.3 428.8,223.3 429.0,223.8 429.0,227.6 429.2,239.4 429.2,244.5 429.3,244.4 429.5,228.4 429.7,231.2 429.8,230.3 429.8,243.3 429.8,246.8 430.0,245.1 430.2,233.8 430.2,236.2 430.3,236.5 430.5,251.9 430.7,252.2 430.7,266.4 430.8,252.5 430.8,239.9 431.0,241.1 431.2,251.4 431.2,251.1 431.3,250.8 431.5,237.4 431.7,235.9 431.7,237.9 431.8,235.9 431.8,244.8 432.0,244.4 432.2,235.6 432.2,235.5 432.3,235.2 432.5,243.4 432.7,242.1 432.8,241.2 432.8,235.5 432.9,233.0 433.0,233.5 433.2,238.0 433.2,238.4 433.3,237.2 433.5,231.8 433.7,230.6 433.8,236.8 433.8,237.4 433.9,239.0 434.0,237.7 434.2,236.2 434.2,235.2 434.3,235.8 434.5,236.0 434.5,238.7 434.7,235.0 434.8,233.6 434.8,229.1 435.0,229.8 435.2,226.0 435.2,230.9 435.2,228.7 435.3,227.0 435.5,227.5 435.7,229.2 435.8,226.7 435.8,231.8 436.0,231.0 436.2,236.2 436.2,233.6 436.3,238.6 436.5,238.2 436.7,242.7 436.8,237.6 436.8,244.2 437.0,244.7 437.0,245.4 437.2,242.4 437.2,244.1 437.3,244.0 437.5,239.9 437.5,239.2 437.7,239.1 437.8,238.3 437.8,237.8 438.0,232.5 438.0,233.1 438.2,229.9 438.2,233.4 438.3,228.2 438.5,230.5 438.5,226.0 438.7,229.2 438.8,224.9 438.8,227.3 439.0,227.6 439.0,229.8 439.2,229.5 439.2,231.4 439.3,231.3 439.5,235.1 439.8,239.0 440.0,245.5 440.2,243.2 440.5,242.4 440.8,240.0 441.0,238.1 441.2,231.7 441.5,232.1 441.8,229.4 442.0,227.8 442.2,224.7 442.5,231.2 442.8,231.9 443.0,238.0 443.2,239.9 443.5,244.5 443.8,242.8 444.0,243.7 444.2,240.1 444.5,238.5 444.8,230.0 444.8,233.9 445.0,229.1 445.2,221.9 445.3,219.9 445.5,216.9 445.8,211.8 445.8,212.7 446.0,211.7 446.2,212.1 446.5,210.2 446.8,209.1 446.8,208.1 447.0,208.6 447.2,208.2 447.5,210.7 447.8,210.2 448.0,212.3 448.0,211.9 448.2,216.5 448.5,218.6 448.6,220.5 448.8,221.1 449.0,224.8 449.2,223.8 449.2,228.4 449.5,227.3 449.8,229.0 450.0,225.3 450.2,223.4 450.3,222.5 450.5,221.2 450.8,220.3 451.0,223.5 451.1,222.3 451.2,225.2 451.5,223.5 451.8,223.5 452.0,219.4 452.0,220.1 452.2,217.8 452.5,222.1 452.8,222.2 452.8,225.4 453.0,223.6 453.2,227.7 453.5,223.7 453.6,224.6 453.8,222.6 454.0,224.1 454.2,223.0 454.4,226.6 454.5,224.2 454.8,227.2 455.0,223.3 455.0,225.5 455.2,222.0 455.5,224.0 455.8,222.8 455.8,226.9 456.0,226.0 456.2,231.5 456.5,228.6 456.6,230.2 456.8,226.6 457.0,226.5 457.2,224.0 457.4,227.4 457.5,226.6 457.8,234.1 458.0,234.8 458.2,237.4 458.2,236.7 458.5,239.7 458.8,240.6 459.0,243.1 459.1,242.6 459.2,243.1 459.5,242.7 459.8,243.5 460.0,241.3 460.1,242.2 460.2,239.6 460.5,238.6 460.8,236.2 461.0,236.9 461.2,235.8 461.3,236.7 461.5,235.7 461.8,236.2 462.0,233.8 462.2,234.2 462.3,232.9 462.5,234.5 462.8,231.6 462.9,231.8 463.0,232.3 463.2,229.1 463.5,225.0 463.6,228.8 463.8,223.5 464.0,229.4 464.2,229.6 464.5,237.2 464.8,237.9 465.0,242.5 465.2,240.5 465.5,244.1 465.8,241.2 466.0,239.6 466.2,234.3 466.5,232.3 466.8,230.2 467.0,231.7 467.2,224.8 467.5,226.7 467.8,226.7 468.0,233.4 468.2,231.5 468.5,238.1 468.8,237.6 469.0,243.0 469.2,242.4 469.5,243.4 469.8,241.4 470.0,239.9 470.2,233.9 470.5,236.2 470.8,228.1 471.0,230.3 471.2,225.1 471.5,227.8 471.8,229.0 472.0,231.6 472.2,234.9 472.5,238.9 472.8,239.1 473.0,240.7 473.2,239.3 473.2,241.5 473.5,226.6 473.7,222.3 473.8,219.5 474.0,214.0 474.2,210.4 474.2,210.8 474.5,209.9 474.8,210.6 475.0,210.4 475.2,211.0 475.2,209.8 475.5,210.4 475.8,208.8 476.0,209.0 476.2,208.8 476.4,210.3 476.5,212.7 476.8,219.1 477.0,221.3 477.0,223.0 477.2,223.6 477.5,225.6 477.6,224.0 477.8,225.0 478.0,225.3 478.2,230.3 478.5,229.1 478.7,230.3 478.8,227.4 479.0,226.8 479.2,218.8 479.5,219.9 479.5,219.0 479.8,222.2 480.0,222.9 480.2,226.2 480.4,222.5 480.5,224.1 480.8,220.4 481.0,222.8 481.2,219.0 481.2,222.9 481.5,224.9 481.8,231.0 482.0,229.7 482.0,231.8 482.2,228.8 482.5,227.6 482.8,221.3 482.8,222.8 483.0,219.9 483.2,223.9 483.4,221.8 483.5,227.3 483.8,228.1 484.0,229.9 484.2,228.0 484.2,229.0 484.5,224.1 484.8,227.5 485.0,226.3 485.0,228.4 485.2,228.0 485.5,231.3 485.8,227.5 485.8,228.8 486.0,227.6 486.2,231.8 486.5,234.4 486.6,235.4 486.8,238.3 487.0,242.1 487.2,243.6 487.5,245.2 487.5,243.5 487.8,242.8 488.0,241.0 488.2,241.9 488.5,240.4 488.5,240.8 488.8,239.9 489.0,238.6 489.2,235.7 489.5,234.4 489.7,232.9 489.8,234.0 490.0,233.6 490.2,234.9 490.5,233.5 490.7,234.6 490.8,233.1 491.0,232.3 491.2,229.5 491.3,232.6 491.5,228.4 491.8,229.5 492.0,228.6 492.0,230.0 492.2,229.4 492.5,231.9 492.8,233.4 493.0,241.0 493.2,235.6 493.5,240.4 493.8,242.5 494.0,243.4 494.2,240.2 494.5,239.2 494.8,233.7 495.0,233.8 495.2,231.2 495.5,232.3 495.8,226.7 496.0,229.7 496.2,227.3 496.5,234.8 496.8,232.7 497.0,238.0 497.2,239.9 497.5,240.7 497.8,239.4 498.0,241.9 498.2,237.6 498.5,235.5 498.8,234.2 499.0,232.0 499.2,229.1 499.5,231.8 499.8,225.5 500.0,228.2 500.2,229.7 500.5,235.0 500.8,233.8 501.0,237.1 501.2,241.0 501.5,242.5 501.5,239.8 501.8,234.0 502.0,222.4 502.0,222.9 502.2,218.3 502.5,213.7 502.5,212.3 502.8,211.4 503.0,209.4 503.2,208.9 503.5,208.1 503.5,209.3 503.8,209.6 504.0,210.7 504.2,209.6 504.5,210.1 504.7,208.9 504.8,210.5 505.0,213.5 505.2,220.2 505.3,220.7 505.5,223.8 505.8,226.7 505.9,229.7 506.0,226.2 506.2,226.4 506.5,220.2 506.8,222.5 507.0,220.4 507.0,224.1 507.2,222.5 507.5,223.1 507.8,217.8 507.8,220.1 508.0,217.4 508.2,218.2 508.5,217.4 508.7,223.5 508.8,222.2 509.0,224.5 509.2,223.0 509.5,222.4 509.5,219.8 509.8,219.6 510.0,216.3 510.2,222.1 510.3,220.8 510.5,224.4 510.8,226.3 511.0,225.9 511.1,222.2 511.2,224.7 511.5,217.8 511.7,219.3 511.8,217.3 512.0,221.7 512.2,224.9 512.5,228.4 512.5,226.7 512.8,228.4 513.0,223.8 513.2,223.8 513.3,223.0 513.5,224.2 513.8,224.0 514.0,232.3 514.1,231.9 514.2,234.6 514.5,233.9 514.8,235.4 514.9,234.9 515.0,236.2 515.2,238.2 515.5,241.7 515.8,244.0 515.8,244.8 516.0,243.4 516.2,243.9 516.5,241.4 516.8,241.4 516.8,239.6 517.0,240.9 517.2,239.7 517.5,240.2 517.8,238.6 518.0,238.1 518.0,237.6 518.2,237.1 518.5,234.9 518.8,235.6 519.0,236.1 519.0,237.1 519.2,235.6 519.5,236.9 519.6,234.5 519.8,234.5 520.0,232.8 520.2,231.2 520.3,228.7 520.5,234.8 520.8,229.7 521.0,238.1 521.2,237.8 521.5,238.7 521.8,239.1 521.9,236.6 522.0,234.6 522.1,235.6 522.2,235.7 522.2,233.1 522.4,230.6 522.5,232.2 522.6,237.4 522.7,234.0 522.8,230.1 522.9,235.5 523.0,232.3 523.1,236.1 523.2,237.9 523.2,235.4 523.4,233.2 523.5,238.5 523.6,229.8 523.7,237.3 523.8,238.2 523.9,238.4 524.0,238.5 524.1,240.2 524.2,239.2 524.2,235.4 524.4,237.4 524.5,242.4 524.6,241.7 524.7,238.0 524.8,237.2 524.9,232.8 525.0,240.6 525.1,235.0 525.2,235.1 525.2,232.6 525.4,224.8 525.5,224.0 525.6,223.3 525.7,227.7 525.8,227.1 525.9,234.3 526.0,225.7 526.1,231.1 526.2,235.5 526.2,238.8 526.4,238.0 526.5,238.4 526.6,243.6 526.7,243.3 526.8,236.4 526.9,238.1 527.0,248.5 527.1,252.7 527.2,244.3 527.2,237.0 527.4,228.2 527.5,235.2 527.6,229.6 527.7,242.9 527.8,240.2 527.9,231.4 528.0,228.0 528.1,229.6 528.2,235.7 528.2,239.2 528.4,239.3 528.5,241.6 528.6,225.5 528.7,226.5 528.8,226.8 528.9,240.7 529.0,241.8 529.1,248.1 529.2,235.0 529.2,232.4 529.4,234.3 529.5,205.7 529.6,249.6 529.7,254.4 529.8,246.7 529.9,232.9 529.9,234.8 530.0,232.8 530.1,226.6 530.2,236.0 530.2,235.5 530.4,230.7 530.4,229.4 530.5,230.9 530.6,213.2 530.7,209.1 530.8,210.5 530.9,223.5 530.9,221.3 531.0,221.0 531.1,223.7 531.2,207.2 531.2,208.3 531.4,207.3 531.5,206.0 531.6,220.9 531.7,220.1 531.8,218.6 531.9,202.8 531.9,202.7 532.0,203.7 532.1,205.3 532.2,217.4 532.2,218.4 532.4,219.4 532.5,217.1 532.6,203.9 532.7,207.5 532.8,204.5 532.9,220.0 533.0,219.7 533.1,218.7 533.1,219.8 533.2,210.1 533.2,209.5 533.4,213.0 533.5,214.1 533.6,226.3 533.7,227.3 533.7,227.6 533.8,226.6 533.9,218.6 534.0,218.9 534.1,220.1 534.2,229.7 534.2,233.6 534.3,231.6 534.4,235.7 534.5,224.6 534.6,227.5 534.7,224.7 534.8,228.5 534.9,230.4 535.0,232.0 535.1,227.7 535.2,222.3 535.2,219.1 535.4,220.1 535.4,217.7 535.5,225.2 535.6,223.1 535.7,225.6 535.8,221.4 535.9,218.4 536.0,217.5 536.1,221.0 536.2,223.7 536.2,225.8 536.2,224.7 536.4,227.1 536.5,220.7 536.6,221.1 536.7,218.7 536.8,220.6 536.9,221.9 537.0,222.2 537.1,219.9 537.1,221.7 537.2,215.9 537.2,218.7 537.4,216.7 537.5,222.2 537.6,222.4 537.7,225.4 537.8,222.5 537.9,224.5 537.9,221.9 538.0,224.5 538.1,222.1 538.2,225.5 538.2,223.9 538.4,225.8 538.5,220.6 538.6,222.2 538.7,219.7 538.7,222.7 538.8,219.3 538.9,223.2 539.0,221.0 539.1,223.2 539.2,222.1 539.2,223.9 539.4,223.5 539.5,227.6 539.5,224.4 539.6,228.0 539.7,225.3 539.8,226.8 539.9,222.4 540.0,225.2 540.1,220.9 540.1,222.7 540.2,220.2 540.2,223.4 540.4,219.8 540.5,222.4 540.6,219.4 540.7,222.8 540.8,222.0 540.9,224.8 540.9,222.7 541.0,226.2 541.1,225.4 541.2,229.5 541.2,226.5 541.4,229.8 541.5,227.3 541.6,229.4 541.7,228.0 541.7,229.0 541.8,227.3 542.0,225.8 542.5,226.0" stroke="#0072BD" stroke-width="1.2"/>
<polyline points="25.5,230.1 26.4,223.6 26.5,224.4 27.2,231.9 27.5,234.9 28.0,240.6 28.5,235.5 28.8,231.9 29.4,225.5 29.5,226.7 30.2,239.3 30.5,236.5 31.0,231.0 31.5,228.3 31.8,226.4 32.5,238.8 32.6,241.2 33.5,260.8 33.5,261.5 34.5,248.9 34.5,248.6 35.5,236.6 35.7,233.8 36.5,232.4 36.7,231.9 37.3,230.1 37.5,230.6 38.0,231.9 38.5,231.9 39.5,231.9 40.5,231.9 41.5,231.9 42.5,231.9 43.5,231.9 44.5,231.9 45.5,231.9 46.5,231.9 47.5,231.9 47.6,231.9 48.1,222.1 48.5,215.4 48.6,213.8 49.5,212.2 49.6,212.0 50.5,212.5 50.8,212.7 51.4,223.0 51.5,224.4 52.0,231.1 52.5,233.9 53.1,237.3 53.5,233.7 53.9,230.2 54.5,226.0 54.8,223.9 55.5,230.9 55.6,231.9 56.4,240.3 56.5,239.3 57.2,231.9 57.5,228.8 57.8,225.7 58.5,237.4 58.6,239.1 59.4,231.1 59.5,230.5 60.2,226.6 60.5,231.9 61.0,240.9 61.5,251.8 61.9,260.5 62.5,253.0 62.9,248.0 63.5,240.9 64.1,233.7 64.5,233.0 65.1,231.9 65.5,230.8 65.7,230.2 66.4,231.9 66.5,231.9 67.5,231.9 68.5,231.9 69.5,231.9 70.5,231.9 71.5,231.9 72.5,231.9 73.5,231.9 74.5,231.9 75.5,231.9 76.0,231.9 76.5,222.5 76.5,222.0 77.0,214.5 77.5,213.5 78.0,212.7 78.5,213.0 79.2,213.4 79.5,218.9 79.8,223.4 80.4,231.1 80.5,231.8 81.5,237.1 81.5,236.8 82.3,230.2 82.5,228.7 83.2,224.2 83.5,227.4 84.0,231.9 84.5,237.3 84.8,240.0 85.5,232.7 85.6,231.9 86.2,225.9 86.5,231.3 87.0,238.8 87.5,233.7 87.8,231.1 88.5,227.2 88.6,226.8 89.4,240.5 89.5,243.3 90.3,259.4 90.5,256.6 91.3,247.4 91.5,244.8 92.5,233.7 92.5,233.6 93.5,231.9 93.5,231.9 94.1,230.2 94.5,231.3 94.8,231.9 95.5,231.9 96.5,231.9 97.5,231.9 98.5,231.9 99.5,231.9 100.5,231.9 101.5,231.9 102.5,231.9 103.5,231.9 104.3,231.9 104.5,228.8 104.8,222.3 105.3,214.0 105.5,213.7 106.3,212.2 106.5,212.3 107.5,212.9 107.5,212.9 108.1,223.1 108.5,227.9 108.7,231.1 109.5,235.3 109.8,237.2 110.5,231.4 110.6,230.2 111.5,224.3 111.5,224.0 112.3,231.9 112.5,233.6 113.1,240.2 113.5,236.5 113.9,231.9 114.5,226.2 114.5,225.8 115.3,239.0 115.5,237.4 116.1,231.1 116.5,229.1 116.9,226.7 117.5,236.5 117.7,240.8 118.5,257.1 118.6,260.2 119.5,249.5 119.6,247.8 120.5,237.7 120.8,233.7 121.5,232.5 121.8,231.9 122.4,230.2 122.5,230.3 123.1,231.9 123.5,231.9 124.5,231.9 125.5,231.9 126.5,231.9 127.5,231.9 128.5,231.9 129.5,231.9 130.5,231.9 131.5,231.9 132.5,231.9 132.7,231.9 133.2,222.6 133.5,217.9 133.7,214.6 134.5,213.2 134.7,212.9 135.5,213.3 135.9,213.5 136.5,223.3 136.5,223.4 137.1,231.1 137.5,233.2 138.2,237.1 138.5,234.6 139.0,230.2 139.5,227.0 139.9,224.3 140.5,229.9 140.7,231.9 141.5,239.9 141.5,240.0 142.3,231.9 142.5,230.1 142.9,226.0 143.5,235.4 143.7,238.8 144.5,231.2 144.5,231.1 145.3,226.8 145.5,230.1 146.1,240.5 146.5,248.6 147.0,259.2 147.5,253.4 148.0,247.3 148.5,241.7 149.2,233.7 149.5,233.2 150.2,231.9 150.5,231.1 150.8,230.2 151.5,231.9 151.5,231.9 152.5,231.9 153.5,231.9 154.5,231.9 155.5,231.9 156.5,231.9 157.5,231.9 158.5,231.9 159.5,231.9 160.5,231.9 161.1,231.9 161.5,223.5 161.6,221.9 162.1,213.4 162.5,212.6 163.1,211.6 163.5,211.8 164.3,212.3 164.5,216.2 164.9,222.9 165.5,231.0 165.5,231.2 166.5,236.9 166.6,237.4 167.4,230.1 167.5,229.3 168.3,223.8 168.5,226.0 169.1,231.9 169.5,236.4 169.9,240.5 170.5,233.9 170.7,231.9 171.3,225.6 171.5,229.3 172.1,239.2 172.5,234.9 172.9,231.0 173.5,227.5 173.7,226.5 174.5,241.0 174.5,241.5 175.4,261.0 175.5,259.5 176.4,248.3 176.5,246.9 177.5,234.7 177.6,233.8 178.5,232.1 178.6,231.9 179.2,230.1 179.5,231.0 179.9,231.9 180.5,231.9 181.5,231.9 182.5,231.9 183.5,231.9 184.5,231.9 185.5,231.9 186.5,231.9 187.5,231.9 188.5,231.9 189.4,231.9 189.5,230.9 189.9,221.2 190.4,212.0 190.5,211.9 191.4,210.0 191.5,210.1 192.5,210.7 192.6,210.8 193.2,222.2 193.5,225.8 193.8,231.0 194.5,235.0 194.9,237.8 195.5,232.4 195.8,230.0 196.5,224.3 196.6,223.1 197.4,231.9 197.5,232.5 198.2,241.2 198.5,238.3 199.0,231.9 199.5,226.8 199.6,225.1 200.4,239.8 200.5,239.2 201.2,231.0 201.5,229.4 202.0,226.1 202.5,234.9 202.8,241.7 203.5,257.3 203.8,263.3 204.5,253.0 204.8,249.6 205.5,239.8 205.9,233.9 206.5,232.8 206.9,231.9 207.5,230.2 207.5,230.0 208.2,231.9 208.5,231.9 209.5,231.9 210.5,231.9 211.5,231.9 212.5,231.9 213.5,231.9 214.5,231.9 215.5,231.9 216.5,231.9 217.5,231.9 217.8,231.9 218.3,222.3 218.5,219.3 218.8,214.0 219.5,212.8 219.8,212.3 220.5,212.7 221.0,213.0 221.5,221.1 221.6,223.2 222.2,231.1 222.5,232.6 223.3,237.2 223.5,235.6 224.1,230.2 224.5,227.6 225.0,224.0 225.5,228.8 225.8,231.9 226.5,239.0 226.6,240.2 227.4,231.9 227.5,231.1 228.0,225.8 228.5,233.7 228.8,239.0 229.5,232.3 229.6,231.1 230.4,226.7 230.5,228.1 231.2,240.7 231.5,246.8 232.1,260.1 232.5,255.4 233.1,247.8 233.5,243.3 234.3,233.7 234.5,233.4 235.3,231.9 235.5,231.4 235.9,230.2 236.5,231.6 236.6,231.9 237.5,231.9 238.5,231.9 239.5,231.9 240.5,231.9 241.5,231.9 242.5,231.9 243.5,231.9 244.5,231.9 245.5,231.9 246.2,231.9 246.5,226.0 246.7,222.4 247.2,214.2 247.5,213.6 248.2,212.4 248.5,212.6 249.4,213.1 249.5,215.0 250.0,223.2 250.5,229.9 250.6,231.1 251.5,236.1 251.7,237.2 252.5,230.2 252.5,230.1 253.4,224.1 253.5,225.2 254.2,231.9 254.5,235.1 255.0,240.1 255.5,234.9 255.8,231.9 256.4,225.8 256.5,227.6 257.2,238.9 257.5,235.9 258.0,231.1 258.5,228.3 258.8,226.7 259.5,239.1 259.6,240.7 260.5,259.9 260.5,259.7 261.5,247.7 261.5,247.5 262.5,235.9 262.7,233.7 263.5,232.3 263.7,231.9 264.3,230.2 264.5,230.7 265.0,231.9 265.5,231.9 266.5,231.9 267.5,231.9 268.5,231.9 269.5,231.9 270.5,231.9 271.5,231.9 272.5,231.9 273.5,231.9 274.5,231.9 274.6,231.9 275.1,221.7 275.5,214.0 275.6,212.9 276.5,211.2 276.6,211.1 277.5,211.6 277.8,211.8 278.4,222.6 278.5,224.6 279.0,231.0 279.5,234.2 280.1,237.5 280.5,233.4 280.9,230.1 281.5,225.4 281.8,223.6 282.5,231.3 282.6,231.9 283.4,240.7 283.5,239.2 284.2,231.9 284.5,228.3 284.8,225.4 285.5,238.4 285.6,239.4 286.4,231.0 286.5,230.2 287.2,226.4 287.5,232.7 288.0,241.3 288.5,253.6 288.9,261.8 289.5,253.4 289.9,248.7 290.5,240.8 291.1,233.8 291.5,233.0 292.1,231.9 292.5,230.6 292.7,230.1 293.4,231.9 293.5,231.9 294.5,231.9 295.5,231.9 296.5,231.9 297.5,231.9 298.5,231.9 299.5,231.9 300.5,231.9 301.5,231.9 302.5,231.9 302.9,231.9 303.4,221.8 303.5,220.6 303.9,213.1 304.5,212.0 304.9,211.2 305.5,211.6 306.1,212.0 306.5,218.6 306.7,222.7 307.3,231.0 307.5,232.0 308.4,237.5 308.5,236.9 309.2,230.1 309.5,228.2 310.1,223.6 310.5,227.5 310.9,231.9 311.5,238.1 311.7,240.6 312.5,232.3 312.5,231.9 313.1,225.5 313.5,231.9 313.9,239.4 314.5,233.4 314.7,231.0 315.5,226.6 315.5,226.4 316.3,241.2 316.5,245.0 317.2,261.6 317.5,258.1 318.2,248.6 318.5,245.3 319.4,233.8 319.5,233.7 320.4,231.9 320.5,231.7 321.0,230.1 321.5,231.3 321.7,231.9 322.5,231.9 323.5,231.9 324.5,231.9 325.5,231.9 326.5,231.9 327.5,231.9 328.5,231.9 329.5,231.9 330.5,231.9 331.3,231.9 331.5,227.9 331.8,221.9 332.3,213.4 332.5,213.0 333.3,211.5 333.5,211.6 334.5,212.3 335.1,222.8 335.5,228.3 335.7,231.0 336.5,235.7 336.8,237.4 337.5,231.0 337.6,230.1 338.5,223.7 339.3,231.9 339.5,234.1 340.1,240.5 340.5,236.2 340.9,231.9 341.5,225.6 342.3,239.2 342.5,237.2 343.1,231.0 343.5,228.8 343.9,226.5 344.5,237.4 344.7,241.1 345.5,258.9 345.6,261.1 346.5,249.6 346.6,248.4 347.5,237.4 347.8,233.8 348.5,232.5 348.8,231.9 349.4,230.1 349.5,230.4 350.1,231.9 350.5,231.9 351.5,231.9 352.5,231.9 353.5,231.9 354.5,231.9 355.5,231.9 356.5,231.9 357.5,231.9 358.5,231.9 359.5,231.9 359.7,231.9 360.2,222.5 360.5,217.2 360.7,214.5 361.5,213.1 361.7,212.8 362.5,213.3 362.9,213.5 363.5,223.4 363.5,223.8 364.1,231.1 364.5,233.4 365.2,237.1 365.5,234.3 366.0,230.2 366.5,226.7 366.9,224.3 367.5,230.3 367.7,231.9 368.5,240.0 368.5,239.7 369.3,231.9 369.5,229.7 369.9,226.0 370.5,236.1 370.7,238.8 371.5,231.1 371.5,230.9 372.3,226.8 372.5,230.8 373.1,240.5 373.5,249.5 374.0,259.3 374.5,253.0 375.0,247.3 375.5,241.3 376.2,233.7 376.5,233.1 377.2,231.9 377.5,231.0 377.8,230.2 378.5,231.9 378.5,231.9 379.5,231.9 380.5,231.9 381.5,231.9 382.5,231.9 383.5,231.9 384.5,231.9 385.5,231.9 386.5,231.9 387.5,231.9 388.0,231.9 388.5,222.8 388.5,222.0 389.0,213.5 389.5,212.7 390.0,211.7 390.5,212.0 391.2,212.4 391.5,217.0 391.8,222.9 392.4,231.0 392.5,231.4 393.5,237.1 393.5,237.4 394.3,230.1 394.5,229.0 395.2,223.8 395.5,226.5 396.0,231.9 396.5,236.8 396.8,240.5 397.5,233.4 397.6,231.9 398.2,225.6 398.5,230.0 399.0,239.2 399.5,234.5 399.8,231.0 400.5,227.3 400.6,226.5 401.4,241.0 401.5,242.3 402.3,260.9 402.5,258.9 403.3,248.2 403.5,246.3 404.5,234.2 404.5,233.8 405.5,232.0 405.5,231.9 406.1,230.1 406.5,231.1 406.8,231.9 407.5,231.9 408.5,231.9 409.5,231.9 410.5,231.9 411.5,231.9 412.5,231.9 413.5,231.9 414.5,231.9 415.5,231.9 416.4,231.9 416.5,230.1 416.9,221.6 417.4,212.7 417.5,212.5 418.4,210.8 418.5,210.9 419.5,211.5 419.6,211.6 420.2,222.5 420.5,226.6 420.8,231.0 421.5,235.2 421.9,237.6 422.5,232.0 422.7,230.1 423.5,224.3 423.6,223.5 424.4,231.9 424.5,232.9 425.2,240.8 425.5,237.6 426.0,231.9 426.5,226.6 426.6,225.3 427.4,239.5 427.5,238.5 428.2,231.0 428.5,229.3 429.0,226.3 429.5,235.5 429.8,241.4 430.5,257.3 430.7,262.2 431.5,251.7 431.7,248.9 432.5,239.0 432.9,233.8 433.5,232.7 433.9,231.9 434.5,230.1 434.5,230.1 435.2,231.9 435.5,231.9 436.5,231.9 437.5,231.9 438.5,231.9 439.5,231.9 440.5,231.9 441.5,231.9 442.5,231.9 443.5,231.9 444.5,231.9 444.8,231.9 445.3,222.8 445.5,219.3 445.8,215.0 446.5,213.8 446.8,213.3 447.5,213.7 448.0,214.0 448.5,222.3 448.6,223.6 449.2,231.1 449.5,232.8 450.3,236.9 450.5,235.1 451.1,230.3 451.5,227.6 452.0,224.5 452.5,229.3 452.8,231.9 453.5,239.0 453.6,239.8 454.4,231.9 454.5,230.8 455.0,226.1 455.5,234.2 455.8,238.6 456.5,231.9 456.6,231.1 457.4,227.0 457.5,229.0 458.2,240.3 458.5,246.8 459.1,258.6 459.5,253.7 460.1,246.9 460.5,242.3 461.3,233.6 461.5,233.2 462.3,231.9 462.5,231.3 462.9,230.3 463.5,231.8 463.6,231.9 464.5,231.9 465.5,231.9 466.5,231.9 467.5,231.9 468.5,231.9 469.5,231.9 470.5,231.9 471.5,231.9 472.5,231.9 473.2,231.9 473.5,225.2 473.7,222.3 474.2,214.0 474.5,213.4 475.2,212.2 475.5,212.4 476.4,212.9 476.5,215.5 477.0,223.1 477.5,230.4 477.6,231.1 478.5,236.4 478.7,237.2 479.5,230.2 479.5,229.8 480.4,224.0 480.5,225.5 481.2,231.9 481.5,235.6 482.0,240.2 482.5,234.5 482.8,231.9 483.4,225.8 483.5,228.3 484.2,239.0 484.5,235.5 485.0,231.1 485.5,228.0 485.8,226.7 486.5,239.9 486.6,240.8 487.5,260.1 487.5,259.5 488.5,247.8 488.5,247.2 489.5,235.5 489.7,233.7 490.5,232.2 490.7,231.9 491.3,230.2 491.5,230.8 492.0,231.9 492.5,231.9 493.5,231.9 494.5,231.9 495.5,231.9 496.5,231.9 497.5,231.9 498.5,231.9 499.5,231.9 500.5,231.9 501.5,231.9 501.5,231.9 502.0,223.1 502.5,215.9 502.5,215.6 503.5,214.0 503.5,214.0 504.5,214.5 504.7,214.6 505.3,223.9 505.5,226.1 505.9,231.1 506.5,234.1 507.0,236.8 507.5,232.9 507.8,230.3 508.5,226.1 508.7,224.7 509.5,231.8 509.5,231.9 510.3,239.5 510.5,237.8 511.1,231.9 511.5,228.4 511.7,226.3 512.5,238.1 512.5,238.4 513.3,231.1 513.5,230.2 514.1,227.1 514.5,233.2 514.9,240.0 515.5,251.4 515.8,257.6 516.5,250.0 516.8,246.4 517.5,239.1 518.0,233.6 518.5,232.8 519.0,231.9 519.5,230.7 519.6,230.3 520.3,231.9 520.5,231.9 521.5,231.9 522.5,231.9 523.5,231.9 524.5,231.9 525.5,231.9 526.5,231.9 527.5,231.9 528.5,231.9 529.5,231.9 529.9,231.9 530.4,222.8 530.5,221.0 530.9,214.9 531.5,213.9 531.9,213.2 532.5,213.6 533.1,213.9 533.5,220.5 533.7,223.6 534.3,231.1 534.5,232.2 535.4,237.0 535.5,236.0 536.2,230.3 536.5,228.3 537.1,224.4 537.5,228.3 537.9,231.9 538.5,237.9 538.7,239.8 539.5,231.9 539.5,231.9 540.1,226.1 540.5,232.5 540.9,238.6 541.5,232.9 541.7,231.1 542.5,226.9 542.5,227.1" stroke="#D95319" stroke-width="1.1"/>
</g>
<rect x="26.5" y="20.7" width="515.3" height="108.89999999999999" fill="none" stroke="#959595" stroke-width="1"/>
<line x1="26.50" y1="129.6" x2="26.50" y2="125.1" stroke="#959595" stroke-width="1"/>
<line x1="26.50" y1="20.7" x2="26.50" y2="25.2" stroke="#959595" stroke-width="1"/>
<text x="26.50" y="139.79999999999998" class="tk" text-anchor="middle">0</text>
<line x1="78.03" y1="129.6" x2="78.03" y2="125.1" stroke="#959595" stroke-width="1"/>
<line x1="78.03" y1="20.7" x2="78.03" y2="25.2" stroke="#959595" stroke-width="1"/>
<text x="78.03" y="139.79999999999998" class="tk" text-anchor="middle">0.05</text>
<line x1="129.56" y1="129.6" x2="129.56" y2="125.1" stroke="#959595" stroke-width="1"/>
<line x1="129.56" y1="20.7" x2="129.56" y2="25.2" stroke="#959595" stroke-width="1"/>
<text x="129.56" y="139.79999999999998" class="tk" text-anchor="middle">0.1</text>
<line x1="181.09" y1="129.6" x2="181.09" y2="125.1" stroke="#959595" stroke-width="1"/>
<line x1="181.09" y1="20.7" x2="181.09" y2="25.2" stroke="#959595" stroke-width="1"/>
<text x="181.09" y="139.79999999999998" class="tk" text-anchor="middle">0.15</text>
<line x1="232.62" y1="129.6" x2="232.62" y2="125.1" stroke="#959595" stroke-width="1"/>
<line x1="232.62" y1="20.7" x2="232.62" y2="25.2" stroke="#959595" stroke-width="1"/>
<text x="232.62" y="139.79999999999998" class="tk" text-anchor="middle">0.2</text>
<line x1="284.15" y1="129.6" x2="284.15" y2="125.1" stroke="#959595" stroke-width="1"/>
<line x1="284.15" y1="20.7" x2="284.15" y2="25.2" stroke="#959595" stroke-width="1"/>
<text x="284.15" y="139.79999999999998" class="tk" text-anchor="middle">0.25</text>
<line x1="335.68" y1="129.6" x2="335.68" y2="125.1" stroke="#959595" stroke-width="1"/>
<line x1="335.68" y1="20.7" x2="335.68" y2="25.2" stroke="#959595" stroke-width="1"/>
<text x="335.68" y="139.79999999999998" class="tk" text-anchor="middle">0.3</text>
<line x1="387.21" y1="129.6" x2="387.21" y2="125.1" stroke="#959595" stroke-width="1"/>
<line x1="387.21" y1="20.7" x2="387.21" y2="25.2" stroke="#959595" stroke-width="1"/>
<text x="387.21" y="139.79999999999998" class="tk" text-anchor="middle">0.35</text>
<line x1="438.74" y1="129.6" x2="438.74" y2="125.1" stroke="#959595" stroke-width="1"/>
<line x1="438.74" y1="20.7" x2="438.74" y2="25.2" stroke="#959595" stroke-width="1"/>
<text x="438.74" y="139.79999999999998" class="tk" text-anchor="middle">0.4</text>
<line x1="490.27" y1="129.6" x2="490.27" y2="125.1" stroke="#959595" stroke-width="1"/>
<line x1="490.27" y1="20.7" x2="490.27" y2="25.2" stroke="#959595" stroke-width="1"/>
<text x="490.27" y="139.79999999999998" class="tk" text-anchor="middle">0.45</text>
<line x1="541.80" y1="129.6" x2="541.80" y2="125.1" stroke="#959595" stroke-width="1"/>
<line x1="541.80" y1="20.7" x2="541.80" y2="25.2" stroke="#959595" stroke-width="1"/>
<text x="541.80" y="139.79999999999998" class="tk" text-anchor="middle">0.5</text>
<line x1="26.5" y1="118.60" x2="31.0" y2="118.60" stroke="#959595" stroke-width="1"/>
<line x1="541.8" y1="118.60" x2="537.3" y2="118.60" stroke="#959595" stroke-width="1"/>
<text x="23.7" y="121.10" class="tk" text-anchor="end">-5</text>
<line x1="26.5" y1="89.75" x2="31.0" y2="89.75" stroke="#959595" stroke-width="1"/>
<line x1="541.8" y1="89.75" x2="537.3" y2="89.75" stroke="#959595" stroke-width="1"/>
<text x="23.7" y="92.25" class="tk" text-anchor="end">0</text>
<line x1="26.5" y1="60.90" x2="31.0" y2="60.90" stroke="#959595" stroke-width="1"/>
<line x1="541.8" y1="60.90" x2="537.3" y2="60.90" stroke="#959595" stroke-width="1"/>
<text x="23.7" y="63.40" class="tk" text-anchor="end">5</text>
<line x1="26.5" y1="32.05" x2="31.0" y2="32.05" stroke="#959595" stroke-width="1"/>
<line x1="541.8" y1="32.05" x2="537.3" y2="32.05" stroke="#959595" stroke-width="1"/>
<text x="23.7" y="34.55" class="tk" text-anchor="end">10</text>
<text x="283.5" y="150.9" class="lab" text-anchor="middle">Time</text>
<text transform="translate(12.6,75.75) rotate(-90)" class="lab" text-anchor="middle">Amplitude</text>
<text x="283.5" y="16.3" class="ttl" text-anchor="middle">(a) Vibration signal before Dephase</text>
<rect x="30.5" y="24.7" width="63" height="17" fill="#fff" stroke="#a8a8a8" stroke-width="1"/>
<line x1="31.5" y1="29.299999999999997" x2="45.5" y2="29.299999999999997" stroke="#0072BD" stroke-width="1.0" stroke-opacity="0.7"/>
<line x1="31.5" y1="37.0" x2="45.5" y2="37.0" stroke="#D95319" stroke-width="1.0" stroke-opacity="0.8"/>
<text x="46.3" y="32.2" class="lg">Measured signal</text>
<text x="46.3" y="39.9" class="lg">Bearing signal</text>
<rect x="26.5" y="177.6" width="515.3" height="108.70000000000002" fill="none" stroke="#959595" stroke-width="1"/>
<line x1="26.50" y1="286.3" x2="26.50" y2="281.8" stroke="#959595" stroke-width="1"/>
<line x1="26.50" y1="177.6" x2="26.50" y2="182.1" stroke="#959595" stroke-width="1"/>
<text x="26.50" y="296.5" class="tk" text-anchor="middle">0</text>
<line x1="78.03" y1="286.3" x2="78.03" y2="281.8" stroke="#959595" stroke-width="1"/>
<line x1="78.03" y1="177.6" x2="78.03" y2="182.1" stroke="#959595" stroke-width="1"/>
<text x="78.03" y="296.5" class="tk" text-anchor="middle">0.05</text>
<line x1="129.56" y1="286.3" x2="129.56" y2="281.8" stroke="#959595" stroke-width="1"/>
<line x1="129.56" y1="177.6" x2="129.56" y2="182.1" stroke="#959595" stroke-width="1"/>
<text x="129.56" y="296.5" class="tk" text-anchor="middle">0.1</text>
<line x1="181.09" y1="286.3" x2="181.09" y2="281.8" stroke="#959595" stroke-width="1"/>
<line x1="181.09" y1="177.6" x2="181.09" y2="182.1" stroke="#959595" stroke-width="1"/>
<text x="181.09" y="296.5" class="tk" text-anchor="middle">0.15</text>
<line x1="232.62" y1="286.3" x2="232.62" y2="281.8" stroke="#959595" stroke-width="1"/>
<line x1="232.62" y1="177.6" x2="232.62" y2="182.1" stroke="#959595" stroke-width="1"/>
<text x="232.62" y="296.5" class="tk" text-anchor="middle">0.2</text>
<line x1="284.15" y1="286.3" x2="284.15" y2="281.8" stroke="#959595" stroke-width="1"/>
<line x1="284.15" y1="177.6" x2="284.15" y2="182.1" stroke="#959595" stroke-width="1"/>
<text x="284.15" y="296.5" class="tk" text-anchor="middle">0.25</text>
<line x1="335.68" y1="286.3" x2="335.68" y2="281.8" stroke="#959595" stroke-width="1"/>
<line x1="335.68" y1="177.6" x2="335.68" y2="182.1" stroke="#959595" stroke-width="1"/>
<text x="335.68" y="296.5" class="tk" text-anchor="middle">0.3</text>
<line x1="387.21" y1="286.3" x2="387.21" y2="281.8" stroke="#959595" stroke-width="1"/>
<line x1="387.21" y1="177.6" x2="387.21" y2="182.1" stroke="#959595" stroke-width="1"/>
<text x="387.21" y="296.5" class="tk" text-anchor="middle">0.35</text>
<line x1="438.74" y1="286.3" x2="438.74" y2="281.8" stroke="#959595" stroke-width="1"/>
<line x1="438.74" y1="177.6" x2="438.74" y2="182.1" stroke="#959595" stroke-width="1"/>
<text x="438.74" y="296.5" class="tk" text-anchor="middle">0.4</text>
<line x1="490.27" y1="286.3" x2="490.27" y2="281.8" stroke="#959595" stroke-width="1"/>
<line x1="490.27" y1="177.6" x2="490.27" y2="182.1" stroke="#959595" stroke-width="1"/>
<text x="490.27" y="296.5" class="tk" text-anchor="middle">0.45</text>
<line x1="541.80" y1="286.3" x2="541.80" y2="281.8" stroke="#959595" stroke-width="1"/>
<line x1="541.80" y1="177.6" x2="541.80" y2="182.1" stroke="#959595" stroke-width="1"/>
<text x="541.80" y="296.5" class="tk" text-anchor="middle">0.5</text>
<line x1="26.5" y1="286.31" x2="31.0" y2="286.31" stroke="#959595" stroke-width="1"/>
<line x1="541.8" y1="286.31" x2="537.3" y2="286.31" stroke="#959595" stroke-width="1"/>
<text x="23.7" y="288.81" class="tk" text-anchor="end">-3</text>
<line x1="26.5" y1="268.19" x2="31.0" y2="268.19" stroke="#959595" stroke-width="1"/>
<line x1="541.8" y1="268.19" x2="537.3" y2="268.19" stroke="#959595" stroke-width="1"/>
<text x="23.7" y="270.69" class="tk" text-anchor="end">-2</text>
<line x1="26.5" y1="250.07" x2="31.0" y2="250.07" stroke="#959595" stroke-width="1"/>
<line x1="541.8" y1="250.07" x2="537.3" y2="250.07" stroke="#959595" stroke-width="1"/>
<text x="23.7" y="252.57" class="tk" text-anchor="end">-1</text>
<line x1="26.5" y1="231.95" x2="31.0" y2="231.95" stroke="#959595" stroke-width="1"/>
<line x1="541.8" y1="231.95" x2="537.3" y2="231.95" stroke="#959595" stroke-width="1"/>
<text x="23.7" y="234.45" class="tk" text-anchor="end">0</text>
<line x1="26.5" y1="213.83" x2="31.0" y2="213.83" stroke="#959595" stroke-width="1"/>
<line x1="541.8" y1="213.83" x2="537.3" y2="213.83" stroke="#959595" stroke-width="1"/>
<text x="23.7" y="216.33" class="tk" text-anchor="end">1</text>
<line x1="26.5" y1="195.71" x2="31.0" y2="195.71" stroke="#959595" stroke-width="1"/>
<line x1="541.8" y1="195.71" x2="537.3" y2="195.71" stroke="#959595" stroke-width="1"/>
<text x="23.7" y="198.21" class="tk" text-anchor="end">2</text>
<line x1="26.5" y1="177.59" x2="31.0" y2="177.59" stroke="#959595" stroke-width="1"/>
<line x1="541.8" y1="177.59" x2="537.3" y2="177.59" stroke="#959595" stroke-width="1"/>
<text x="23.7" y="180.09" class="tk" text-anchor="end">3</text>
<text x="283.5" y="307.6" class="lab" text-anchor="middle">Time</text>
<text transform="translate(13.8,232.15) rotate(-90)" class="lab" text-anchor="middle">Amplitude</text>
<text x="283.5" y="173.1" class="ttl" text-anchor="middle">(b) Vibration signal after Dephase</text>
<rect x="30.5" y="181.2" width="63" height="17" fill="#fff" stroke="#a8a8a8" stroke-width="1"/>
<line x1="31.5" y1="185.79999999999998" x2="45.5" y2="185.79999999999998" stroke="#0072BD" stroke-width="1.0" stroke-opacity="0.7"/>
<line x1="31.5" y1="193.5" x2="45.5" y2="193.5" stroke="#D95319" stroke-width="1.0" stroke-opacity="0.8"/>
<text x="46.3" y="188.7" class="lg">Dephased signal</text>
<text x="46.3" y="196.39999999999998" class="lg">Bearing signal</text>
</svg>
</body></html>
